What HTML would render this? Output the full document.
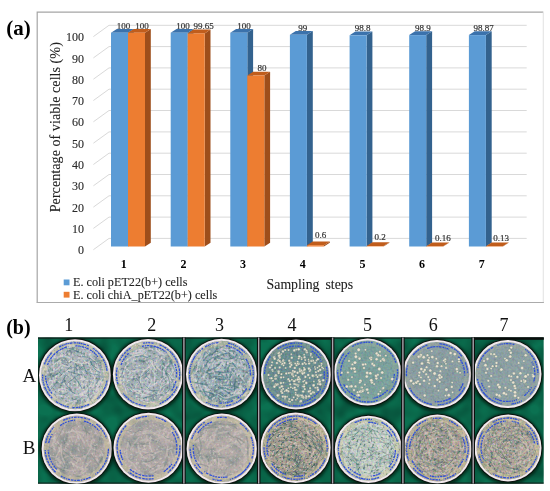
<!DOCTYPE html><html><head><meta charset="utf-8"><style>
html,body{margin:0;padding:0;background:#fff;}
svg{display:block;}
text{font-family:"Liberation Serif",serif;}
</style></head><body>
<svg width="550" height="491" viewBox="0 0 550 491">
<rect width="550" height="491" fill="#fff"/>

<path d="M37.2,302.5V12.2H543.3" fill="none" stroke="#a5a5a5" stroke-width="1.2"/>
<path d="M543.3,12.2V302.5" fill="none" stroke="#e4e4e4" stroke-width="1.1"/>
<path d="M36.6,302.5H543.9" fill="none" stroke="#ababab" stroke-width="1.2"/>
<polyline points="93.4,249.7 109,238.4 526.7,238.4" fill="none" stroke="#d9d9d9" stroke-width="1"/>
<polyline points="93.4,228.4 109,217.1 526.7,217.1" fill="none" stroke="#d9d9d9" stroke-width="1"/>
<polyline points="93.4,207.1 109,195.8 526.7,195.8" fill="none" stroke="#d9d9d9" stroke-width="1"/>
<polyline points="93.4,185.8 109,174.5 526.7,174.5" fill="none" stroke="#d9d9d9" stroke-width="1"/>
<polyline points="93.4,164.5 109,153.2 526.7,153.2" fill="none" stroke="#d9d9d9" stroke-width="1"/>
<polyline points="93.4,143.2 109,131.9 526.7,131.9" fill="none" stroke="#d9d9d9" stroke-width="1"/>
<polyline points="93.4,121.8 109,110.5 526.7,110.5" fill="none" stroke="#d9d9d9" stroke-width="1"/>
<polyline points="93.4,100.5 109,89.2 526.7,89.2" fill="none" stroke="#d9d9d9" stroke-width="1"/>
<polyline points="93.4,79.2 109,67.9 526.7,67.9" fill="none" stroke="#d9d9d9" stroke-width="1"/>
<polyline points="93.4,57.9 109,46.6 526.7,46.6" fill="none" stroke="#d9d9d9" stroke-width="1"/>
<polyline points="93.4,36.6 109,25.3 526.7,25.3" fill="none" stroke="#d9d9d9" stroke-width="1"/>
<text x="84" y="254.3" font-size="12" text-anchor="end" fill="#2a2a2a" stroke="#2a2a2a" stroke-width="0.12">0</text>
<text x="84" y="233.0" font-size="12" text-anchor="end" fill="#2a2a2a" stroke="#2a2a2a" stroke-width="0.12">10</text>
<text x="84" y="211.7" font-size="12" text-anchor="end" fill="#2a2a2a" stroke="#2a2a2a" stroke-width="0.12">20</text>
<text x="84" y="190.4" font-size="12" text-anchor="end" fill="#2a2a2a" stroke="#2a2a2a" stroke-width="0.12">30</text>
<text x="84" y="169.1" font-size="12" text-anchor="end" fill="#2a2a2a" stroke="#2a2a2a" stroke-width="0.12">40</text>
<text x="84" y="147.8" font-size="12" text-anchor="end" fill="#2a2a2a" stroke="#2a2a2a" stroke-width="0.12">50</text>
<text x="84" y="126.4" font-size="12" text-anchor="end" fill="#2a2a2a" stroke="#2a2a2a" stroke-width="0.12">60</text>
<text x="84" y="105.1" font-size="12" text-anchor="end" fill="#2a2a2a" stroke="#2a2a2a" stroke-width="0.12">70</text>
<text x="84" y="83.8" font-size="12" text-anchor="end" fill="#2a2a2a" stroke="#2a2a2a" stroke-width="0.12">80</text>
<text x="84" y="62.5" font-size="12" text-anchor="end" fill="#2a2a2a" stroke="#2a2a2a" stroke-width="0.12">90</text>
<text x="84" y="41.2" font-size="12" text-anchor="end" fill="#2a2a2a" stroke="#2a2a2a" stroke-width="0.12">100</text>
<polygon points="128.0,32.7 133.8,28.9 133.8,242.7 128.0,246.5" fill="#33628e"/>
<polygon points="111.0,32.7 116.8,28.9 133.8,28.9 128.0,32.7" fill="#3b72ac"/>
<rect x="111.0" y="32.7" width="17.0" height="213.8" fill="#5b9bd5"/>
<polygon points="145.0,32.7 150.8,28.9 150.8,242.7 145.0,246.5" fill="#9e4e1b"/>
<polygon points="128.0,32.7 133.8,28.9 150.8,28.9 145.0,32.7" fill="#c05d1c"/>
<rect x="128.0" y="32.7" width="17.0" height="213.8" fill="#ed7d31"/>
<polygon points="187.7,32.7 193.5,28.9 193.5,242.7 187.7,246.5" fill="#33628e"/>
<polygon points="170.7,32.7 176.5,28.9 193.5,28.9 187.7,32.7" fill="#3b72ac"/>
<rect x="170.7" y="32.7" width="17.0" height="213.8" fill="#5b9bd5"/>
<polygon points="204.7,33.4 210.5,29.6 210.5,242.7 204.7,246.5" fill="#9e4e1b"/>
<polygon points="187.7,33.4 193.5,29.6 210.5,29.6 204.7,33.4" fill="#c05d1c"/>
<rect x="187.7" y="33.4" width="17.0" height="213.1" fill="#ed7d31"/>
<polygon points="247.3,32.7 253.1,28.9 253.1,242.7 247.3,246.5" fill="#33628e"/>
<polygon points="230.3,32.7 236.1,28.9 253.1,28.9 247.3,32.7" fill="#3b72ac"/>
<rect x="230.3" y="32.7" width="17.0" height="213.8" fill="#5b9bd5"/>
<polygon points="264.3,75.5 270.1,71.7 270.1,242.7 264.3,246.5" fill="#9e4e1b"/>
<polygon points="247.3,75.5 253.1,71.7 270.1,71.7 264.3,75.5" fill="#c05d1c"/>
<rect x="247.3" y="75.5" width="17.0" height="171.0" fill="#ed7d31"/>
<polygon points="306.9,34.8 312.8,31.0 312.8,242.7 306.9,246.5" fill="#33628e"/>
<polygon points="289.9,34.8 295.8,31.0 312.8,31.0 306.9,34.8" fill="#3b72ac"/>
<rect x="289.9" y="34.8" width="17.0" height="211.7" fill="#5b9bd5"/>
<polygon points="323.9,245.2 329.8,241.4 329.8,242.7 323.9,246.5" fill="#9e4e1b"/>
<polygon points="306.9,245.2 312.8,241.4 329.8,241.4 323.9,245.2" fill="#c05d1c"/>
<rect x="306.9" y="245.2" width="17.0" height="1.3" fill="#ed7d31"/>
<polygon points="366.6,35.3 372.4,31.5 372.4,242.7 366.6,246.5" fill="#33628e"/>
<polygon points="349.6,35.3 355.4,31.5 372.4,31.5 366.6,35.3" fill="#3b72ac"/>
<rect x="349.6" y="35.3" width="17.0" height="211.2" fill="#5b9bd5"/>
<polygon points="383.6,246.1 389.4,242.3 389.4,242.7 383.6,246.5" fill="#9e4e1b"/>
<polygon points="366.6,246.1 372.4,242.3 389.4,242.3 383.6,246.1" fill="#c05d1c"/>
<rect x="366.6" y="246.1" width="17.0" height="0.4" fill="#ed7d31"/>
<polygon points="426.2,35.1 432.1,31.3 432.1,242.7 426.2,246.5" fill="#33628e"/>
<polygon points="409.2,35.1 415.1,31.3 432.1,31.3 426.2,35.1" fill="#3b72ac"/>
<rect x="409.2" y="35.1" width="17.0" height="211.4" fill="#5b9bd5"/>
<polygon points="443.2,246.2 449.1,242.4 449.1,242.7 443.2,246.5" fill="#9e4e1b"/>
<polygon points="426.2,246.2 432.1,242.4 449.1,242.4 443.2,246.2" fill="#c05d1c"/>
<rect x="426.2" y="246.2" width="17.0" height="0.3" fill="#ed7d31"/>
<polygon points="485.9,35.1 491.7,31.3 491.7,242.7 485.9,246.5" fill="#33628e"/>
<polygon points="468.9,35.1 474.7,31.3 491.7,31.3 485.9,35.1" fill="#3b72ac"/>
<rect x="468.9" y="35.1" width="17.0" height="211.4" fill="#5b9bd5"/>
<polygon points="502.9,246.2 508.7,242.4 508.7,242.7 502.9,246.5" fill="#9e4e1b"/>
<polygon points="485.9,246.2 491.7,242.4 508.7,242.4 502.9,246.2" fill="#c05d1c"/>
<rect x="485.9" y="246.2" width="17.0" height="0.3" fill="#ed7d31"/>
<text x="123.4" y="28.6" font-size="9" text-anchor="middle" fill="#333" stroke="#333" stroke-width="0.2">100</text>
<text x="183" y="28.6" font-size="9" text-anchor="middle" fill="#333" stroke="#333" stroke-width="0.2">100</text>
<text x="243.9" y="28.6" font-size="9" text-anchor="middle" fill="#333" stroke="#333" stroke-width="0.2">100</text>
<text x="302.7" y="31" font-size="9" text-anchor="middle" fill="#333" stroke="#333" stroke-width="0.2">99</text>
<text x="362.7" y="31.4" font-size="9" text-anchor="middle" fill="#333" stroke="#333" stroke-width="0.2">98.8</text>
<text x="422.8" y="31.2" font-size="9" text-anchor="middle" fill="#333" stroke="#333" stroke-width="0.2">98.9</text>
<text x="483.6" y="31.2" font-size="9" text-anchor="middle" fill="#333" stroke="#333" stroke-width="0.2">98.87</text>
<text x="142" y="28.6" font-size="9" text-anchor="middle" fill="#333" stroke="#333" stroke-width="0.2">100</text>
<text x="203.5" y="28.6" font-size="9" text-anchor="middle" fill="#333" stroke="#333" stroke-width="0.2">99.65</text>
<text x="262" y="71.2" font-size="9" text-anchor="middle" fill="#333" stroke="#333" stroke-width="0.2">80</text>
<text x="320.5" y="238" font-size="9" text-anchor="middle" fill="#333" stroke="#333" stroke-width="0.2">0.6</text>
<text x="380" y="240.2" font-size="9" text-anchor="middle" fill="#333" stroke="#333" stroke-width="0.2">0.2</text>
<text x="442.9" y="241" font-size="9" text-anchor="middle" fill="#333" stroke="#333" stroke-width="0.2">0.16</text>
<text x="501" y="241" font-size="9" text-anchor="middle" fill="#333" stroke="#333" stroke-width="0.2">0.13</text>
<text x="123.8" y="268.3" font-size="12" font-weight="bold" text-anchor="middle" fill="#000">1</text>
<text x="183.4" y="268.3" font-size="12" font-weight="bold" text-anchor="middle" fill="#000">2</text>
<text x="243.1" y="268.3" font-size="12" font-weight="bold" text-anchor="middle" fill="#000">3</text>
<text x="302.8" y="268.3" font-size="12" font-weight="bold" text-anchor="middle" fill="#000">4</text>
<text x="362.4" y="268.3" font-size="12" font-weight="bold" text-anchor="middle" fill="#000">5</text>
<text x="422.1" y="268.3" font-size="12" font-weight="bold" text-anchor="middle" fill="#000">6</text>
<text x="481.7" y="268.3" font-size="12" font-weight="bold" text-anchor="middle" fill="#000">7</text>
<text x="266.6" y="288.6" font-size="13.8" word-spacing="2.5" fill="#222" stroke="#222" stroke-width="0.08">Sampling steps</text>
<text transform="translate(59.6,212.3) rotate(-90)" font-size="14.2" fill="#222" stroke="#222" stroke-width="0.08">Percentage of viable cells (%)</text>
<rect x="63.7" y="279.5" width="5.8" height="5.8" fill="#5b9bd5"/>
<rect x="63.7" y="291.8" width="5.8" height="5.8" fill="#ed7d31"/>
<text x="73" y="286.4" font-size="12.2" fill="#222" stroke="#222" stroke-width="0.08">E. coli pET22(b+) cells</text>
<text x="73" y="298.7" font-size="12.2" fill="#222" stroke="#222" stroke-width="0.08">E. coli chiA_pET22(b+) cells</text>
<text x="6.2" y="35.3" font-size="21" font-weight="bold" fill="#000">(a)</text>
<text x="6.2" y="334" font-size="20" font-weight="bold" fill="#000">(b)</text>
<text x="68.8" y="331.3" font-size="18" text-anchor="middle" fill="#111">1</text>
<text x="151.85" y="331.3" font-size="18" text-anchor="middle" fill="#111">2</text>
<text x="219.5" y="331.3" font-size="18" text-anchor="middle" fill="#111">3</text>
<text x="291.9" y="331.3" font-size="18" text-anchor="middle" fill="#111">4</text>
<text x="367.6" y="331.3" font-size="18" text-anchor="middle" fill="#111">5</text>
<text x="433.3" y="331.3" font-size="18" text-anchor="middle" fill="#111">6</text>
<text x="504" y="331.3" font-size="18" text-anchor="middle" fill="#111">7</text>
<text x="22.4" y="382.2" font-size="19" fill="#111">A</text>
<text x="22.8" y="454" font-size="19" fill="#111">B</text>
<defs>
<filter id="nz" x="0" y="0" width="1" height="1" color-interpolation-filters="sRGB"><feTurbulence type="fractalNoise" baseFrequency="0.55" numOctaves="1" seed="5"/><feColorMatrix type="matrix" values="2.2 0 0 0 -0.6  0 2.2 0 0 -0.6  0 0 2.2 0 -0.6  0 0 0 0 1"/></filter>
<filter id="spk" x="0" y="0" width="1" height="1" color-interpolation-filters="sRGB"><feTurbulence type="fractalNoise" baseFrequency="0.38 0.5" numOctaves="2" seed="3"/><feColorMatrix type="matrix" values="0 0 0 0 0.2  0 0 0 0 0.36  0 0 0 0 0.35  6 0 0 0 -3.2"/></filter>
<filter id="spl" x="0" y="0" width="1" height="1" color-interpolation-filters="sRGB"><feTurbulence type="fractalNoise" baseFrequency="0.35 0.45" numOctaves="2" seed="17"/><feColorMatrix type="matrix" values="0 0 0 0 0.95  0 0 0 0 0.92  0 0 0 0 0.9  0 6 0 0 -3.2"/></filter>
<filter id="sw" x="0" y="0" width="1" height="1" color-interpolation-filters="sRGB"><feTurbulence type="fractalNoise" baseFrequency="0.07 0.1" numOctaves="2" seed="21"/><feColorMatrix type="matrix" values="0 0 0 0 0.3  0 0 0 0 0.45  0 0 0 0 0.46  3 0 0 0 -1.25"/></filter>
<filter id="shd" x="-0.2" y="-0.2" width="1.4" height="1.4"><feGaussianBlur stdDeviation="1.6"/></filter>
<filter id="bgt" x="0" y="0" width="1" height="1" color-interpolation-filters="sRGB"><feTurbulence type="fractalNoise" baseFrequency="0.05" numOctaves="2" seed="2"/><feColorMatrix type="matrix" values="0 0 0 0 0  0 0 0 0 0.08  0 0 0 0 0.06  1.6 0 0 0 -0.55"/></filter>
</defs>
<defs><clipPath id="photo"><rect x="38" y="337.3" width="505.8" height="146.5"/></clipPath></defs><g clip-path="url(#photo)">
<rect x="38" y="337.3" width="505.8" height="146.5" fill="#0b7151"/>
<rect x="38" y="337.3" width="505.8" height="146.5" filter="url(#bgt)" opacity="0.45"/>
<rect x="38" y="337.3" width="505.8" height="1.3" fill="#101614"/>
<rect x="38" y="482.6" width="505.8" height="1.2" fill="#101614"/>
<rect x="258.7" y="337.3" width="74" height="2.4" fill="#0a0d0c"/>
<rect x="473" y="337.3" width="71" height="2.5" fill="#0a0d0c"/>
<defs>
<clipPath id="c0"><circle cx="75" cy="375.2" r="34.0"/></clipPath>
<clipPath id="c1"><circle cx="148.1" cy="374.3" r="33.2"/></clipPath>
<clipPath id="c2"><circle cx="221.5" cy="374.3" r="33.5"/></clipPath>
<clipPath id="c3"><circle cx="296" cy="374.5" r="33.0"/></clipPath>
<clipPath id="c4"><circle cx="367.6" cy="372.1" r="31.5"/></clipPath>
<clipPath id="c5"><circle cx="437" cy="374.2" r="32.2"/></clipPath>
<clipPath id="c6"><circle cx="507.5" cy="374" r="32.0"/></clipPath>
<clipPath id="c7"><circle cx="76.8" cy="448.8" r="33.2"/></clipPath>
<clipPath id="c8"><circle cx="148.5" cy="447.7" r="33.0"/></clipPath>
<clipPath id="c9"><circle cx="221.8" cy="448.8" r="33.2"/></clipPath>
<clipPath id="c10"><circle cx="295.6" cy="447.7" r="33.2"/></clipPath>
<clipPath id="c11"><circle cx="368.4" cy="449.3" r="31.6"/></clipPath>
<clipPath id="c12"><circle cx="437.4" cy="449" r="32.4"/></clipPath>
<clipPath id="c13"><circle cx="508" cy="447.9" r="31.5"/></clipPath>
</defs>
<circle cx="75" cy="376.0" r="38.2" fill="#020806" opacity="0.7" filter="url(#shd)"/>
<circle cx="75" cy="375.2" r="36.9" fill="#0a120f"/>
<circle cx="75" cy="375.2" r="36" fill="#f1e9ec"/>
<circle cx="75" cy="375.2" r="34.0" fill="#b7c0c6"/>
<g clip-path="url(#c0)">
<rect x="21.0" y="321.2" width="108.0" height="108.0" filter="url(#sw)" opacity="0.35" transform="rotate(138 75 375.2)"/>
<rect x="21.0" y="321.2" width="108.0" height="108.0" filter="url(#spl)" opacity="0.7" transform="rotate(98 75 375.2)"/>
<rect x="21.0" y="321.2" width="108.0" height="108.0" filter="url(#spk)" opacity="0.45" transform="rotate(58 75 375.2)"/>
<path d="M61.4,376.3q3.2,-6.4 10.4,-6.1M95.3,380.8q-0.9,3.5 -2.5,6.6M101.2,388.9q-6.2,6.1 -11.0,13.4M96.2,369.2q-2.8,2.4 -2.6,6.0M91.6,383.6q-3.6,7.8 -11.9,10.4M54.1,357.3q5.2,-0.5 10.3,-1.6M83.6,372.7q0.3,5.7 -2.2,10.9M49.7,386.7q3.7,-3.6 3.8,-8.8M81.8,396.1q-7.7,4.0 -11.7,11.7M90.4,369.7q2.0,3.1 3.2,6.7M95.1,392.2q-6.1,4.3 -7.9,11.5M89.1,354.4q2.1,4.6 6.2,7.5M54.0,372.0q-0.9,-8.6 -1.2,-17.3M102.4,378.4q-4.5,5.8 -6.4,12.9M82.7,343.3q8.4,-1.0 12.5,6.4M89.2,392.8q-2.6,3.5 -6.9,2.7M99.0,388.8q-0.8,9.5 -9.4,13.5M47.5,372.9q9.0,-1.1 14.2,-8.6M77.4,401.2q-9.7,-1.6 -15.3,6.5M83.8,383.4q-2.1,4.2 -6.5,5.9M52.0,367.0q3.5,-4.4 8.3,-7.2M96.1,361.3q1.8,6.9 3.9,13.7M58.0,347.7q3.2,8.1 11.6,10.1M55.0,398.0q-5.0,-3.6 -4.6,-9.8M100.5,381.4q-1.2,3.9 -3.9,6.9M82.1,371.3q2.4,3.7 0.5,7.8M95.7,374.8q-0.5,4.1 -3.4,7.0M66.3,389.6q-3.6,-2.0 -7.5,-0.4M45.1,385.4q-2.0,-3.1 -2.5,-6.8M79.8,358.1q4.7,0.6 6.0,5.2M42.3,372.2q2.1,-2.4 3.9,-5.0M93.3,344.5q4.6,6.0 4.7,13.6M90.2,386.7q-4.2,6.7 -11.0,10.7M71.8,360.6q8.6,5.0 17.8,1.3M81.7,345.9q5.9,2.1 10.5,6.3M78.2,372.0q3.5,3.4 4.3,8.3M92.0,365.6q7.1,7.9 17.2,4.8M82.8,393.3q-3.9,2.7 -8.5,1.7M59.3,362.8q4.9,3.4 10.8,4.5M98.7,382.8q-3.0,7.5 2.0,13.8M67.3,347.5q7.6,-2.4 15.4,-1.2M102.2,364.8q1.7,5.1 2.0,10.6M66.2,343.9q3.5,2.8 7.7,1.2M98.7,393.1q-9.6,0.7 -12.6,9.8M62.7,396.9q-2.5,-2.7 -6.0,-1.4" fill="none" stroke="#ece6e8" stroke-width="1.4" stroke-linecap="round" opacity="0.6"/>
<path d="M82.5,356.3q8.5,0.8 14.1,7.3M74.5,393.2q-4.1,-2.1 -7.6,-5.1M82.8,364.3q2.2,4.6 3.9,9.5M89.2,362.2q6.0,-0.6 11.9,-1.7M99.4,372.5q1.0,6.1 -2.9,10.9M68.5,371.5q7.0,2.4 14.2,3.7M51.7,376.8q6.6,-1.7 10.2,-7.5M59.5,376.3q5.8,-4.9 11.5,-10.0M68.7,348.0q8.1,2.6 15.6,6.5M52.0,379.7q-1.8,-5.4 -4.0,-10.7M90.9,361.8q1.9,7.9 9.4,10.9M78.1,399.9q-1.8,8.8 -10.0,12.6M64.8,382.6q-1.4,-3.4 -0.4,-6.9M66.9,368.0q4.0,0.8 7.8,-0.7M89.0,387.5q-3.1,9.4 4.3,16.0M81.2,367.1q6.4,7.5 16.2,7.5M60.3,385.9q1.8,-6.0 5.9,-10.6M73.1,393.0q-4.4,-4.6 -8.0,-9.8M67.5,383.1q5.4,-4.0 10.7,-8.2M81.2,371.4q2.9,2.4 3.8,6.2M74.1,373.1q-0.1,-5.2 4.0,-8.3M90.2,361.2q0.7,4.5 4.9,6.0M64.6,354.1q1.8,-3.7 6.0,-3.8M46.5,392.0q6.8,-2.8 9.6,-9.7M78.4,365.5q1.1,3.6 4.7,4.9M68.1,392.9q-4.3,2.9 -9.1,1.1M80.0,396.9q-2.6,3.1 -6.7,2.9M72.5,376.1q6.4,4.6 9.3,11.9" fill="none" stroke="#2f6a7a" stroke-width="1.0" stroke-linecap="round" opacity="0.45"/>
<rect x="39.0" y="339.2" width="72.0" height="72.0" filter="url(#nz)" opacity="0.12"/>
<circle cx="75" cy="375.2" r="31.4" fill="none" stroke="#ddd09a" stroke-width="5" opacity="0.35"/>
</g>
<path d="M89.2,404.3A32.4,32.4 0 0 1 72.1,407.5 M68.7,407.0A32.4,32.4 0 0 1 54.8,400.5 M52.2,398.3A32.4,32.4 0 0 1 42.6,374.5 M44.5,364.4A32.4,32.4 0 0 1 51.8,352.6 M59.3,346.9A32.4,32.4 0 0 1 89.0,346.0 M93.0,348.3A32.4,32.4 0 0 1 107.2,371.7 M107.0,380.5A32.4,32.4 0 0 1 97.3,398.7 M52.0,393.5A29.4,29.4 0 0 1 45.6,375.7 M47.5,364.9A29.4,29.4 0 0 1 68.4,346.5 M75.4,345.8A29.4,29.4 0 0 1 97.9,356.8" fill="none" stroke="#2f4fd8" stroke-width="1.3" stroke-dasharray="2.2 0.7 1.6 0.4 1.1 0.5 2.4 0.6 1.2 0.5 2.7 1.1 2.3 0.6 1.3 0.6 1.8 0.5 1.8 0.6 2.9 1.2 2.0 0.6 2.9 0.6 1.6 0.4 1.6 0.8"/>
<circle cx="148.1" cy="375.1" r="37.4" fill="#020806" opacity="0.7" filter="url(#shd)"/>
<circle cx="148.1" cy="374.3" r="36.1" fill="#0a120f"/>
<circle cx="148.1" cy="374.3" r="35.2" fill="#f1e9ec"/>
<circle cx="148.1" cy="374.3" r="33.2" fill="#b4bec5"/>
<g clip-path="url(#c1)">
<rect x="95.3" y="321.5" width="105.6" height="105.6" filter="url(#sw)" opacity="0.35" transform="rotate(170 148.1 374.3)"/>
<rect x="95.3" y="321.5" width="105.6" height="105.6" filter="url(#spl)" opacity="0.7" transform="rotate(130 148.1 374.3)"/>
<rect x="95.3" y="321.5" width="105.6" height="105.6" filter="url(#spk)" opacity="0.45" transform="rotate(90 148.1 374.3)"/>
<path d="M150.3,373.9q-2.0,2.9 -4.8,5.2M154.1,368.7q-0.0,6.5 0.5,13.0M126.0,352.4q7.6,3.2 14.5,-1.3M145.7,394.9q-5.9,-4.6 -13.1,-6.6M146.7,361.8q3.6,7.7 9.6,13.7M154.6,344.8q1.5,6.5 7.4,9.5M157.8,343.8q0.1,7.4 6.5,11.3M135.3,350.7q3.7,-1.3 7.5,-1.0M149.8,360.3q2.6,5.9 7.0,10.6M130.2,353.9q8.2,0.6 15.0,-4.0M124.5,376.1q-2.0,-7.9 4.1,-13.3M155.0,402.1q-7.7,2.0 -14.6,-2.0M174.8,364.3q0.8,6.0 -0.3,11.9M132.5,355.3q6.4,-4.8 13.6,-1.5M151.7,379.9q-2.2,7.4 -7.9,12.7M174.2,369.6q-4.4,5.8 -5.4,13.0M147.6,400.2q-6.1,-0.8 -12.0,-2.2M170.4,382.8q-10.2,1.9 -13.2,11.9M147.7,368.3q-8.2,4.7 -7.1,14.2M149.9,395.7q-4.2,-1.1 -8.4,-1.2M128.0,374.6q7.4,-6.4 17.0,-4.1M117.4,376.4q4.5,-2.2 5.0,-7.2M168.6,374.8q1.0,2.8 2.0,5.7M146.0,395.8q-3.9,-3.8 -9.2,-3.2M148.6,365.0q3.8,8.3 -1.0,16.0M136.1,343.8q5.3,0.5 10.1,2.6M119.4,362.4q1.8,-4.9 4.5,-9.3M167.4,376.3q-5.5,0.6 -7.5,5.8M152.4,391.4q-6.6,0.9 -11.7,-3.3M169.1,362.9q-6.2,4.8 -5.2,12.5M120.5,372.3q-5.8,-6.4 -2.5,-14.4M124.4,386.8q-4.5,-3.3 -3.4,-8.8M169.3,390.0q1.0,5.9 -0.5,11.7M141.1,353.5q6.9,2.2 11.6,7.6M132.8,391.2q-4.3,-1.1 -6.2,-5.1M154.1,360.2q1.5,10.2 11.6,12.3M164.2,387.3q-0.9,4.7 -5.4,6.3M166.3,378.5q-6.0,4.2 -5.8,11.5M126.8,393.6q-1.5,-5.3 -3.4,-10.4M145.2,395.7q-9.8,-1.4 -14.3,-10.3M125.4,361.5q6.2,-6.3 15.0,-6.6M154.8,384.8q-9.4,2.5 -13.1,11.5M178.2,375.3q-2.1,2.6 -2.5,5.9M120.1,384.5q2.0,-5.9 -2.2,-10.5M159.3,345.7q8.4,4.1 12.5,12.5" fill="none" stroke="#ece6e8" stroke-width="1.1" stroke-linecap="round" opacity="0.6"/>
<path d="M169.0,358.1q3.5,6.7 6.3,13.8M167.2,373.1q6.0,5.6 6.8,13.8M126.0,352.9q4.3,-1.6 7.7,-4.7M170.4,388.8q-2.5,2.3 -4.9,4.8M132.1,391.9q-2.8,-1.5 -4.4,-4.3M171.2,362.5q-6.0,5.0 -5.2,12.7M156.9,393.2q-6.1,4.3 -13.6,4.9M149.1,370.1q-5.1,4.9 -11.2,8.6M137.1,360.0q3.3,-0.2 6.3,1.0M135.7,357.0q4.5,0.6 8.1,-2.2M119.4,378.0q3.9,-3.7 3.7,-9.0M157.0,393.3q-7.5,-2.5 -12.5,-8.5M117.1,380.6q1.8,-5.3 1.2,-10.9M171.2,395.9q-3.6,4.5 -9.4,5.2M171.6,394.9q-6.1,1.0 -8.4,6.7M136.0,343.8q8.1,6.7 17.8,2.7M158.3,390.8q-3.2,-0.7 -6.4,0.0M139.5,389.0q-5.4,1.2 -9.7,-2.1M146.1,372.6q-0.5,4.4 3.3,6.7M142.5,392.7q0.0,-8.7 -6.4,-14.5M165.9,372.2q5.3,7.6 3.4,16.7M161.8,360.1q1.7,2.7 2.7,5.8M148.0,345.0q2.3,3.2 6.2,2.8M140.0,355.4q8.5,1.3 15.6,6.1M160.5,363.5q5.0,5.7 6.6,13.0M162.7,367.4q-2.5,8.4 3.5,14.7M171.5,359.8q-3.9,5.8 -0.3,11.7M128.3,397.4q-3.6,-2.8 -6.5,-6.2" fill="none" stroke="#2f6a7a" stroke-width="0.9" stroke-linecap="round" opacity="0.45"/>
<rect x="112.9" y="339.1" width="70.4" height="70.4" filter="url(#nz)" opacity="0.12"/>
<circle cx="148.1" cy="374.3" r="30.6" fill="none" stroke="#ddd09a" stroke-width="5" opacity="0.35"/>
</g>
<path d="M176.5,360.5A31.6,31.6 0 0 1 179.7,373.6 M177.2,386.5A31.6,31.6 0 0 1 159.1,403.9 M145.8,405.8A31.6,31.6 0 0 1 123.1,393.6 M118.0,384.1A31.6,31.6 0 0 1 117.2,367.6 M119.5,360.8A31.6,31.6 0 0 1 130.9,347.8 M143.0,343.1A31.6,31.6 0 0 1 154.2,343.3 M159.6,344.9A31.6,31.6 0 0 1 177.5,362.8 M179.2,368.9A31.6,31.6 0 0 1 179.2,379.7 M121.0,365.0A28.6,28.6 0 0 1 129.4,352.7 M141.9,346.4A28.6,28.6 0 0 1 166.5,352.4 M174.7,363.8A28.6,28.6 0 0 1 176.5,377.4 M175.9,381.1A28.6,28.6 0 0 1 171.6,390.7" fill="none" stroke="#2f4fd8" stroke-width="1.3" stroke-dasharray="2.4 0.8 1.3 0.7 2.2 0.9 2.4 1.1 2.3 0.5 2.6 0.6 2.0 0.7 2.4 0.6 1.3 0.6 1.1 1.1 2.1 0.7 1.7 1.2 1.9 0.6 2.6 0.9 3.0 0.5"/>
<circle cx="221.5" cy="375.1" r="37.7" fill="#020806" opacity="0.7" filter="url(#shd)"/>
<circle cx="221.5" cy="374.3" r="36.4" fill="#0a120f"/>
<circle cx="221.5" cy="374.3" r="35.5" fill="#f1e9ec"/>
<circle cx="221.5" cy="374.3" r="33.5" fill="#a7b9c2"/>
<g clip-path="url(#c2)">
<rect x="168.2" y="321.1" width="106.5" height="106.5" filter="url(#sw)" opacity="0.45" transform="rotate(165 221.5 374.3)"/>
<rect x="168.2" y="321.1" width="106.5" height="106.5" filter="url(#spl)" opacity="0.65" transform="rotate(125 221.5 374.3)"/>
<rect x="168.2" y="321.1" width="106.5" height="106.5" filter="url(#spk)" opacity="0.55" transform="rotate(85 221.5 374.3)"/>
<path d="M250.7,377.7q-2.8,4.1 -0.0,8.3M240.4,359.7q0.6,5.9 5.7,8.8M223.1,397.5q-2.7,-2.5 -5.9,-4.2M229.2,394.1q-0.4,5.8 -5.3,9.0M225.3,389.0q-4.5,2.4 -8.4,-0.9M211.2,361.4q1.6,-3.9 4.9,-6.6M222.0,361.5q3.4,-1.4 7.0,-1.7M203.9,358.8q1.4,-3.7 5.1,-4.9M202.4,396.6q-5.2,-7.3 -6.2,-16.3M207.6,398.3q1.8,-5.9 -1.9,-10.8M202.4,402.0q-4.2,-2.9 -2.9,-7.9M191.5,395.2q2.5,-7.6 6.9,-14.3M192.7,387.8q1.3,-6.3 0.1,-12.6M250.4,384.4q-2.4,6.4 -6.8,11.6M241.6,386.5q-3.4,9.1 -13.0,11.1M221.7,348.6q9.4,1.9 14.5,9.9M230.1,367.7q0.3,3.9 3.8,5.4M231.7,360.1q4.6,5.8 12.0,6.1M216.3,362.6q8.3,3.1 16.1,-1.2M227.8,391.5q-3.5,-4.1 -7.2,-8.1M241.2,381.8q-1.8,9.8 -11.5,12.2M219.9,349.0q1.9,3.0 5.4,3.5M212.2,372.8q-0.0,-4.9 1.0,-9.6M202.5,391.6q-3.0,-6.3 -5.0,-13.0M239.7,373.7q1.1,4.6 4.8,7.4M196.2,385.3q-1.7,-3.7 -3.1,-7.5M231.7,377.0q-3.2,4.7 -6.2,9.4M214.6,371.6q3.5,-1.2 5.6,-4.2M190.2,376.2q6.0,-1.7 7.1,-7.8M220.1,362.7q7.8,5.3 17.2,5.0M239.6,403.7q-6.7,-7.6 -16.6,-5.5M216.1,363.6q7.4,-6.8 16.8,-3.4M217.8,354.2q3.8,3.4 8.8,2.9M201.8,377.7q6.3,-6.7 15.5,-7.0M204.4,377.7q-0.9,-4.4 2.0,-7.9M200.7,350.0q6.2,-6.8 15.4,-6.5M242.7,387.6q-3.0,5.0 -0.6,10.3M197.2,370.4q-0.4,-9.5 7.4,-14.9M199.1,356.0q3.9,-3.9 1.7,-9.0M206.5,400.3q-0.9,-7.6 -0.6,-15.2M217.0,359.0q3.6,2.9 8.0,4.2M189.5,362.9q4.0,-6.0 10.5,-9.3M217.4,376.1q5.4,-1.4 10.8,-3.1M245.9,395.3q-4.5,0.1 -8.5,2.0M221.3,375.9q4.4,-3.4 9.9,-2.9" fill="none" stroke="#ece6e8" stroke-width="1.4" stroke-linecap="round" opacity="0.55"/>
<path d="M197.6,382.0q1.7,-4.1 -1.3,-7.5M238.9,387.9q-7.8,-4.2 -16.3,-2.0M222.4,395.7q-2.4,-2.0 -5.4,-2.9M215.9,395.7q-7.6,-5.0 -16.6,-4.6M232.3,362.9q2.0,2.6 4.2,5.0M225.3,396.4q-2.1,-2.2 -4.6,-4.1M244.7,397.0q-4.2,0.5 -8.1,2.2M204.0,360.4q2.4,-4.4 6.7,-7.0M226.5,362.2q-2.0,7.8 0.7,15.4M230.3,372.5q-7.5,0.2 -14.9,-0.6M235.2,379.5q0.6,5.2 -3.8,7.9M214.8,359.0q5.7,-5.1 13.3,-5.9M207.5,385.0q-7.5,-1.7 -15.2,-3.0M205.0,367.0q2.7,-9.6 12.6,-10.7M230.4,389.9q-7.7,-4.2 -14.9,0.9M212.1,401.4q-1.5,-4.9 -6.5,-6.0M207.8,355.9q8.2,-1.7 9.8,-10.0M227.8,354.0q4.6,3.7 10.5,4.0M216.8,394.5q-4.1,1.4 -7.5,4.0M229.5,366.0q-2.7,3.2 -1.2,7.2M236.1,387.5q-2.2,3.1 -5.9,2.4M202.7,357.9q1.7,-3.0 2.7,-6.2M221.6,358.7q8.7,2.5 15.5,-3.4M229.4,365.6q-1.4,3.7 -4.9,5.4M233.1,368.6q-4.8,7.4 -2.5,16.0M229.4,351.0q4.0,-1.0 6.9,1.9M233.5,398.4q-4.2,2.7 -8.8,4.4M226.5,379.0q-5.2,1.1 -10.4,-0.4M186.3,380.4q5.4,-6.2 8.6,-13.7M221.8,376.9q-5.2,-1.2 -10.1,0.5M234.3,398.4q-8.9,3.1 -16.1,-3.0M242.7,398.7q-7.9,-4.5 -15.1,1.2M224.3,377.8q-3.5,-5.4 -9.8,-6.7M211.4,377.8q-1.6,-5.1 -6.8,-6.0M231.1,394.7q-6.0,-4.0 -11.9,-8.1M208.6,370.3q7.6,-1.5 12.1,-7.8M209.1,398.5q-3.7,-4.1 -6.0,-9.0M250.0,386.6q-2.0,4.0 -6.0,6.0" fill="none" stroke="#2a6878" stroke-width="1.3" stroke-linecap="round" opacity="0.5"/>
<rect x="186.0" y="338.8" width="71.0" height="71.0" filter="url(#nz)" opacity="0.12"/>
<circle cx="221.5" cy="374.3" r="30.9" fill="none" stroke="#ddd09a" stroke-width="5" opacity="0.35"/>
</g>
<path d="M189.6,374.1A31.9,31.9 0 0 1 194.7,357.0 M205.0,347.0A31.9,31.9 0 0 1 218.9,342.5 M228.0,343.1A31.9,31.9 0 0 1 246.0,353.9 M252.0,365.1A31.9,31.9 0 0 1 249.0,390.5 M241.5,399.1A31.9,31.9 0 0 1 225.8,405.9 M218.4,406.1A31.9,31.9 0 0 1 206.1,402.2 M195.7,393.1A31.9,31.9 0 0 1 189.9,370.0 M194.0,358.1A31.9,31.9 0 0 1 203.0,348.3 M225.7,345.7A28.9,28.9 0 0 1 243.3,355.3 M245.9,358.8A28.9,28.9 0 0 1 250.4,375.9 M246.7,388.4A28.9,28.9 0 0 1 237.7,398.2 M233.2,400.7A28.9,28.9 0 0 1 218.8,403.1" fill="none" stroke="#2f4fd8" stroke-width="1.3" stroke-dasharray="2.7 0.5 1.1 0.6 1.5 0.8 1.2 0.7 1.2 1.2 2.4 0.5 2.9 0.5 1.6 1.2 2.5 1.0 1.8 0.6 2.2 0.5 1.3 0.7 0.9 0.7 2.5 1.0 1.9 0.9"/>
<circle cx="296" cy="375.3" r="37.2" fill="#020806" opacity="0.7" filter="url(#shd)"/>
<circle cx="296" cy="374.5" r="35.9" fill="#0a120f"/>
<circle cx="296" cy="374.5" r="35" fill="#f1e9ec"/>
<circle cx="296" cy="374.5" r="33.0" fill="#6a9094"/>
<g clip-path="url(#c3)">
<rect x="243.5" y="322.0" width="105.0" height="105.0" filter="url(#spk)" opacity="0.3" transform="rotate(83 296 374.5)"/>
<rect x="261.0" y="339.5" width="70.0" height="70.0" filter="url(#nz)" opacity="0.1"/>
<circle cx="296" cy="374.5" r="30.4" fill="none" stroke="#ddd09a" stroke-width="5" opacity="0.12"/>
</g>
<path d="M315.7,398.9A31.4,31.4 0 0 1 294.7,405.9 M286.6,404.5A31.4,31.4 0 0 1 267.7,388.1 M264.6,374.0A31.4,31.4 0 0 1 270.4,356.3 M277.6,349.0A31.4,31.4 0 0 1 302.2,343.7 M310.2,346.5A31.4,31.4 0 0 1 321.1,355.7 M326.4,366.6A31.4,31.4 0 0 1 320.8,393.8 M311.0,402.1A31.4,31.4 0 0 1 287.0,404.6 M283.8,348.8A28.4,28.4 0 0 1 304.6,347.4 M311.8,350.9A28.4,28.4 0 0 1 321.4,361.8 M324.2,371.3A28.4,28.4 0 0 1 323.5,381.7 M320.6,388.7A28.4,28.4 0 0 1 301.6,402.3" fill="none" stroke="#2f4fd8" stroke-width="1.3" stroke-dasharray="2.2 0.6 1.7 0.8 2.2 0.7 2.3 1.1 1.2 0.9 2.5 0.7 1.9 1.2 0.9 0.8 1.2 1.0 2.9 0.8 1.0 0.9 2.0 1.0 1.9 0.9 2.6 0.8 1.7 1.2"/>
<circle cx="301.7" cy="396.9" r="1.10" fill="#ebe2d0" stroke="#5a7670" stroke-width="0.3"/>
<circle cx="296.8" cy="364.7" r="1.39" fill="#ebe2d0" stroke="#5a7670" stroke-width="0.3"/>
<circle cx="291.9" cy="379.8" r="1.04" fill="#ebe2d0" stroke="#5a7670" stroke-width="0.3"/>
<circle cx="293.4" cy="376.4" r="1.11" fill="#ebe2d0" stroke="#5a7670" stroke-width="0.3"/>
<circle cx="275.5" cy="385.7" r="1.08" fill="#ebe2d0" stroke="#5a7670" stroke-width="0.3"/>
<circle cx="294.7" cy="387.7" r="1.27" fill="#ebe2d0" stroke="#5a7670" stroke-width="0.3"/>
<circle cx="314.9" cy="367.0" r="1.01" fill="#ebe2d0" stroke="#5a7670" stroke-width="0.3"/>
<circle cx="301.6" cy="357.9" r="1.01" fill="#ebe2d0" stroke="#5a7670" stroke-width="0.3"/>
<circle cx="313.0" cy="392.4" r="1.30" fill="#ebe2d0" stroke="#5a7670" stroke-width="0.3"/>
<circle cx="283.3" cy="360.2" r="1.18" fill="#ebe2d0" stroke="#5a7670" stroke-width="0.3"/>
<circle cx="300.1" cy="401.7" r="1.08" fill="#ebe2d0" stroke="#5a7670" stroke-width="0.3"/>
<circle cx="279.7" cy="355.1" r="1.31" fill="#ebe2d0" stroke="#5a7670" stroke-width="0.3"/>
<circle cx="281.1" cy="377.5" r="1.17" fill="#ebe2d0" stroke="#5a7670" stroke-width="0.3"/>
<circle cx="314.1" cy="392.6" r="1.08" fill="#ebe2d0" stroke="#5a7670" stroke-width="0.3"/>
<circle cx="304.6" cy="362.8" r="1.09" fill="#ebe2d0" stroke="#5a7670" stroke-width="0.3"/>
<circle cx="295.6" cy="392.8" r="0.99" fill="#ebe2d0" stroke="#5a7670" stroke-width="0.3"/>
<circle cx="319.8" cy="374.9" r="1.04" fill="#ebe2d0" stroke="#5a7670" stroke-width="0.3"/>
<circle cx="296.5" cy="389.9" r="1.14" fill="#ebe2d0" stroke="#5a7670" stroke-width="0.3"/>
<circle cx="275.9" cy="384.2" r="1.23" fill="#ebe2d0" stroke="#5a7670" stroke-width="0.3"/>
<circle cx="278.5" cy="395.0" r="1.33" fill="#ebe2d0" stroke="#5a7670" stroke-width="0.3"/>
<circle cx="319.9" cy="383.4" r="1.35" fill="#ebe2d0" stroke="#5a7670" stroke-width="0.3"/>
<circle cx="298.2" cy="364.2" r="1.32" fill="#ebe2d0" stroke="#5a7670" stroke-width="0.3"/>
<circle cx="293.7" cy="372.0" r="0.91" fill="#ebe2d0" stroke="#5a7670" stroke-width="0.3"/>
<circle cx="317.6" cy="367.7" r="1.03" fill="#ebe2d0" stroke="#5a7670" stroke-width="0.3"/>
<circle cx="304.5" cy="380.8" r="1.02" fill="#ebe2d0" stroke="#5a7670" stroke-width="0.3"/>
<circle cx="298.7" cy="358.2" r="0.98" fill="#ebe2d0" stroke="#5a7670" stroke-width="0.3"/>
<circle cx="316.5" cy="360.4" r="0.98" fill="#ebe2d0" stroke="#5a7670" stroke-width="0.3"/>
<circle cx="312.9" cy="360.7" r="1.29" fill="#ebe2d0" stroke="#5a7670" stroke-width="0.3"/>
<circle cx="283.0" cy="351.4" r="1.29" fill="#ebe2d0" stroke="#5a7670" stroke-width="0.3"/>
<circle cx="302.6" cy="363.9" r="1.25" fill="#ebe2d0" stroke="#5a7670" stroke-width="0.3"/>
<circle cx="272.3" cy="369.9" r="1.12" fill="#ebe2d0" stroke="#5a7670" stroke-width="0.3"/>
<circle cx="311.4" cy="360.5" r="1.03" fill="#ebe2d0" stroke="#5a7670" stroke-width="0.3"/>
<circle cx="297.0" cy="384.9" r="1.15" fill="#ebe2d0" stroke="#5a7670" stroke-width="0.3"/>
<circle cx="313.9" cy="381.4" r="0.97" fill="#ebe2d0" stroke="#5a7670" stroke-width="0.3"/>
<circle cx="276.3" cy="375.6" r="1.17" fill="#ebe2d0" stroke="#5a7670" stroke-width="0.3"/>
<circle cx="297.5" cy="372.8" r="1.32" fill="#ebe2d0" stroke="#5a7670" stroke-width="0.3"/>
<circle cx="275.4" cy="378.7" r="1.23" fill="#ebe2d0" stroke="#5a7670" stroke-width="0.3"/>
<circle cx="305.2" cy="360.1" r="1.11" fill="#ebe2d0" stroke="#5a7670" stroke-width="0.3"/>
<circle cx="303.5" cy="372.6" r="1.22" fill="#ebe2d0" stroke="#5a7670" stroke-width="0.3"/>
<circle cx="292.9" cy="370.9" r="1.20" fill="#ebe2d0" stroke="#5a7670" stroke-width="0.3"/>
<circle cx="284.9" cy="349.9" r="1.07" fill="#ebe2d0" stroke="#5a7670" stroke-width="0.3"/>
<circle cx="315.9" cy="372.2" r="1.14" fill="#ebe2d0" stroke="#5a7670" stroke-width="0.3"/>
<circle cx="300.1" cy="371.4" r="1.26" fill="#ebe2d0" stroke="#5a7670" stroke-width="0.3"/>
<circle cx="284.5" cy="363.0" r="1.33" fill="#ebe2d0" stroke="#5a7670" stroke-width="0.3"/>
<circle cx="283.1" cy="388.9" r="1.16" fill="#ebe2d0" stroke="#5a7670" stroke-width="0.3"/>
<circle cx="297.7" cy="361.8" r="1.12" fill="#ebe2d0" stroke="#5a7670" stroke-width="0.3"/>
<circle cx="277.6" cy="384.3" r="1.31" fill="#ebe2d0" stroke="#5a7670" stroke-width="0.3"/>
<circle cx="289.2" cy="399.1" r="1.10" fill="#ebe2d0" stroke="#5a7670" stroke-width="0.3"/>
<circle cx="281.4" cy="374.2" r="1.15" fill="#ebe2d0" stroke="#5a7670" stroke-width="0.3"/>
<circle cx="318.4" cy="371.0" r="1.30" fill="#ebe2d0" stroke="#5a7670" stroke-width="0.3"/>
<circle cx="288.3" cy="388.3" r="1.05" fill="#ebe2d0" stroke="#5a7670" stroke-width="0.3"/>
<circle cx="276.9" cy="363.0" r="1.29" fill="#ebe2d0" stroke="#5a7670" stroke-width="0.3"/>
<circle cx="319.1" cy="380.4" r="1.34" fill="#ebe2d0" stroke="#5a7670" stroke-width="0.3"/>
<circle cx="290.0" cy="372.7" r="1.05" fill="#ebe2d0" stroke="#5a7670" stroke-width="0.3"/>
<circle cx="308.2" cy="375.0" r="1.36" fill="#ebe2d0" stroke="#5a7670" stroke-width="0.3"/>
<circle cx="278.4" cy="360.2" r="1.29" fill="#ebe2d0" stroke="#5a7670" stroke-width="0.3"/>
<circle cx="314.5" cy="362.7" r="1.21" fill="#ebe2d0" stroke="#5a7670" stroke-width="0.3"/>
<circle cx="279.7" cy="357.8" r="1.20" fill="#ebe2d0" stroke="#5a7670" stroke-width="0.3"/>
<circle cx="290.6" cy="362.8" r="1.23" fill="#ebe2d0" stroke="#5a7670" stroke-width="0.3"/>
<circle cx="272.4" cy="380.9" r="0.95" fill="#ebe2d0" stroke="#5a7670" stroke-width="0.3"/>
<circle cx="298.3" cy="379.4" r="1.29" fill="#ebe2d0" stroke="#5a7670" stroke-width="0.3"/>
<circle cx="315.4" cy="362.8" r="1.08" fill="#ebe2d0" stroke="#5a7670" stroke-width="0.3"/>
<circle cx="306.9" cy="352.2" r="1.18" fill="#ebe2d0" stroke="#5a7670" stroke-width="0.3"/>
<circle cx="295.2" cy="389.9" r="1.11" fill="#ebe2d0" stroke="#5a7670" stroke-width="0.3"/>
<circle cx="288.3" cy="391.2" r="1.22" fill="#ebe2d0" stroke="#5a7670" stroke-width="0.3"/>
<circle cx="302.0" cy="371.9" r="1.18" fill="#ebe2d0" stroke="#5a7670" stroke-width="0.3"/>
<circle cx="305.4" cy="376.9" r="1.31" fill="#ebe2d0" stroke="#5a7670" stroke-width="0.3"/>
<circle cx="272.1" cy="362.3" r="1.12" fill="#ebe2d0" stroke="#5a7670" stroke-width="0.3"/>
<circle cx="313.4" cy="376.0" r="1.20" fill="#ebe2d0" stroke="#5a7670" stroke-width="0.3"/>
<circle cx="321.6" cy="363.9" r="1.14" fill="#ebe2d0" stroke="#5a7670" stroke-width="0.3"/>
<circle cx="288.4" cy="379.2" r="1.22" fill="#ebe2d0" stroke="#5a7670" stroke-width="0.3"/>
<circle cx="298.6" cy="385.1" r="0.91" fill="#ebe2d0" stroke="#5a7670" stroke-width="0.3"/>
<circle cx="319.1" cy="375.2" r="0.96" fill="#ebe2d0" stroke="#5a7670" stroke-width="0.3"/>
<circle cx="304.1" cy="372.8" r="1.33" fill="#ebe2d0" stroke="#5a7670" stroke-width="0.3"/>
<circle cx="298.6" cy="377.2" r="1.26" fill="#ebe2d0" stroke="#5a7670" stroke-width="0.3"/>
<circle cx="297.2" cy="398.5" r="0.99" fill="#ebe2d0" stroke="#5a7670" stroke-width="0.3"/>
<circle cx="319.4" cy="382.1" r="1.26" fill="#ebe2d0" stroke="#5a7670" stroke-width="0.3"/>
<circle cx="310.7" cy="355.6" r="0.94" fill="#ebe2d0" stroke="#5a7670" stroke-width="0.3"/>
<circle cx="279.7" cy="357.5" r="1.13" fill="#ebe2d0" stroke="#5a7670" stroke-width="0.3"/>
<circle cx="308.9" cy="368.7" r="1.38" fill="#ebe2d0" stroke="#5a7670" stroke-width="0.3"/>
<circle cx="295.4" cy="371.6" r="0.91" fill="#ebe2d0" stroke="#5a7670" stroke-width="0.3"/>
<circle cx="281.2" cy="354.0" r="0.94" fill="#ebe2d0" stroke="#5a7670" stroke-width="0.3"/>
<circle cx="287.0" cy="396.7" r="0.98" fill="#ebe2d0" stroke="#5a7670" stroke-width="0.3"/>
<circle cx="308.5" cy="359.5" r="0.93" fill="#ebe2d0" stroke="#5a7670" stroke-width="0.3"/>
<circle cx="281.7" cy="390.2" r="1.12" fill="#ebe2d0" stroke="#5a7670" stroke-width="0.3"/>
<circle cx="291.3" cy="364.9" r="1.30" fill="#ebe2d0" stroke="#5a7670" stroke-width="0.3"/>
<circle cx="281.3" cy="391.5" r="1.21" fill="#ebe2d0" stroke="#5a7670" stroke-width="0.3"/>
<circle cx="280.9" cy="383.1" r="1.29" fill="#ebe2d0" stroke="#5a7670" stroke-width="0.3"/>
<circle cx="319.3" cy="366.1" r="1.18" fill="#ebe2d0" stroke="#5a7670" stroke-width="0.3"/>
<circle cx="294.2" cy="381.2" r="1.39" fill="#ebe2d0" stroke="#5a7670" stroke-width="0.3"/>
<circle cx="288.6" cy="350.1" r="1.07" fill="#ebe2d0" stroke="#5a7670" stroke-width="0.3"/>
<circle cx="274.2" cy="357.4" r="1.32" fill="#ebe2d0" stroke="#5a7670" stroke-width="0.3"/>
<circle cx="283.5" cy="365.3" r="1.11" fill="#ebe2d0" stroke="#5a7670" stroke-width="0.3"/>
<circle cx="309.1" cy="363.4" r="1.24" fill="#ebe2d0" stroke="#5a7670" stroke-width="0.3"/>
<circle cx="274.7" cy="358.7" r="1.30" fill="#ebe2d0" stroke="#5a7670" stroke-width="0.3"/>
<circle cx="295.8" cy="375.6" r="1.03" fill="#ebe2d0" stroke="#5a7670" stroke-width="0.3"/>
<circle cx="277.0" cy="384.5" r="1.31" fill="#ebe2d0" stroke="#5a7670" stroke-width="0.3"/>
<circle cx="300.4" cy="370.8" r="1.32" fill="#ebe2d0" stroke="#5a7670" stroke-width="0.3"/>
<circle cx="305.9" cy="350.4" r="1.19" fill="#ebe2d0" stroke="#5a7670" stroke-width="0.3"/>
<circle cx="292.1" cy="400.0" r="1.30" fill="#ebe2d0" stroke="#5a7670" stroke-width="0.3"/>
<circle cx="285.3" cy="350.0" r="1.07" fill="#ebe2d0" stroke="#5a7670" stroke-width="0.3"/>
<circle cx="313.9" cy="385.1" r="1.30" fill="#ebe2d0" stroke="#5a7670" stroke-width="0.3"/>
<circle cx="303.4" cy="397.6" r="1.37" fill="#ebe2d0" stroke="#5a7670" stroke-width="0.3"/>
<circle cx="298.2" cy="396.2" r="1.24" fill="#ebe2d0" stroke="#5a7670" stroke-width="0.3"/>
<circle cx="283.6" cy="377.3" r="1.03" fill="#ebe2d0" stroke="#5a7670" stroke-width="0.3"/>
<circle cx="296.2" cy="349.6" r="1.13" fill="#ebe2d0" stroke="#5a7670" stroke-width="0.3"/>
<circle cx="317.4" cy="387.7" r="1.29" fill="#ebe2d0" stroke="#5a7670" stroke-width="0.3"/>
<circle cx="298.3" cy="395.7" r="1.35" fill="#ebe2d0" stroke="#5a7670" stroke-width="0.3"/>
<circle cx="311.2" cy="361.1" r="1.14" fill="#ebe2d0" stroke="#5a7670" stroke-width="0.3"/>
<circle cx="285.7" cy="368.0" r="1.00" fill="#ebe2d0" stroke="#5a7670" stroke-width="0.3"/>
<circle cx="305.9" cy="395.8" r="1.08" fill="#ebe2d0" stroke="#5a7670" stroke-width="0.3"/>
<circle cx="279.7" cy="367.5" r="1.16" fill="#ebe2d0" stroke="#5a7670" stroke-width="0.3"/>
<circle cx="299.5" cy="379.3" r="1.40" fill="#ebe2d0" stroke="#5a7670" stroke-width="0.3"/>
<circle cx="289.6" cy="381.0" r="1.22" fill="#ebe2d0" stroke="#5a7670" stroke-width="0.3"/>
<circle cx="298.6" cy="363.7" r="1.20" fill="#ebe2d0" stroke="#5a7670" stroke-width="0.3"/>
<circle cx="284.7" cy="391.2" r="0.91" fill="#ebe2d0" stroke="#5a7670" stroke-width="0.3"/>
<circle cx="323.2" cy="380.3" r="1.33" fill="#ebe2d0" stroke="#5a7670" stroke-width="0.3"/>
<circle cx="275.0" cy="376.3" r="1.03" fill="#ebe2d0" stroke="#5a7670" stroke-width="0.3"/>
<circle cx="299.3" cy="356.5" r="1.37" fill="#ebe2d0" stroke="#5a7670" stroke-width="0.3"/>
<circle cx="298.7" cy="349.3" r="1.38" fill="#ebe2d0" stroke="#5a7670" stroke-width="0.3"/>
<circle cx="295.9" cy="379.9" r="1.00" fill="#ebe2d0" stroke="#5a7670" stroke-width="0.3"/>
<circle cx="299.4" cy="381.8" r="0.93" fill="#ebe2d0" stroke="#5a7670" stroke-width="0.3"/>
<circle cx="271.6" cy="365.3" r="1.13" fill="#ebe2d0" stroke="#5a7670" stroke-width="0.3"/>
<circle cx="321.3" cy="365.8" r="0.93" fill="#ebe2d0" stroke="#5a7670" stroke-width="0.3"/>
<circle cx="281.6" cy="364.3" r="0.96" fill="#ebe2d0" stroke="#5a7670" stroke-width="0.3"/>
<circle cx="309.7" cy="370.9" r="1.18" fill="#ebe2d0" stroke="#5a7670" stroke-width="0.3"/>
<circle cx="278.6" cy="353.3" r="1.23" fill="#ebe2d0" stroke="#5a7670" stroke-width="0.3"/>
<circle cx="281.3" cy="386.2" r="0.98" fill="#ebe2d0" stroke="#5a7670" stroke-width="0.3"/>
<circle cx="323.2" cy="368.5" r="1.01" fill="#ebe2d0" stroke="#5a7670" stroke-width="0.3"/>
<circle cx="309.7" cy="377.9" r="1.08" fill="#ebe2d0" stroke="#5a7670" stroke-width="0.3"/>
<circle cx="317.8" cy="359.2" r="1.32" fill="#ebe2d0" stroke="#5a7670" stroke-width="0.3"/>
<circle cx="319.8" cy="381.7" r="1.25" fill="#ebe2d0" stroke="#5a7670" stroke-width="0.3"/>
<circle cx="279.2" cy="352.4" r="0.93" fill="#ebe2d0" stroke="#5a7670" stroke-width="0.3"/>
<circle cx="310.9" cy="393.7" r="1.37" fill="#ebe2d0" stroke="#5a7670" stroke-width="0.3"/>
<circle cx="289.2" cy="360.8" r="1.20" fill="#ebe2d0" stroke="#5a7670" stroke-width="0.3"/>
<circle cx="296.5" cy="365.4" r="1.06" fill="#ebe2d0" stroke="#5a7670" stroke-width="0.3"/>
<circle cx="295.6" cy="384.4" r="1.14" fill="#ebe2d0" stroke="#5a7670" stroke-width="0.3"/>
<circle cx="302.7" cy="386.4" r="0.97" fill="#ebe2d0" stroke="#5a7670" stroke-width="0.3"/>
<circle cx="294.6" cy="371.7" r="1.26" fill="#ebe2d0" stroke="#5a7670" stroke-width="0.3"/>
<circle cx="297.8" cy="379.5" r="1.36" fill="#ebe2d0" stroke="#5a7670" stroke-width="0.3"/>
<circle cx="301.0" cy="401.1" r="1.33" fill="#ebe2d0" stroke="#5a7670" stroke-width="0.3"/>
<circle cx="304.0" cy="367.8" r="1.12" fill="#ebe2d0" stroke="#5a7670" stroke-width="0.3"/>
<circle cx="318.1" cy="389.9" r="1.32" fill="#ebe2d0" stroke="#5a7670" stroke-width="0.3"/>
<circle cx="283.0" cy="360.9" r="1.07" fill="#ebe2d0" stroke="#5a7670" stroke-width="0.3"/>
<circle cx="304.6" cy="357.2" r="1.21" fill="#ebe2d0" stroke="#5a7670" stroke-width="0.3"/>
<circle cx="304.2" cy="384.8" r="0.93" fill="#ebe2d0" stroke="#5a7670" stroke-width="0.3"/>
<circle cx="291.3" cy="354.2" r="0.97" fill="#ebe2d0" stroke="#5a7670" stroke-width="0.3"/>
<circle cx="305.9" cy="364.0" r="1.11" fill="#ebe2d0" stroke="#5a7670" stroke-width="0.3"/>
<circle cx="304.1" cy="386.6" r="1.32" fill="#ebe2d0" stroke="#5a7670" stroke-width="0.3"/>
<circle cx="290.2" cy="384.4" r="1.15" fill="#ebe2d0" stroke="#5a7670" stroke-width="0.3"/>
<circle cx="285.0" cy="398.7" r="0.96" fill="#ebe2d0" stroke="#5a7670" stroke-width="0.3"/>
<circle cx="302.6" cy="373.6" r="1.35" fill="#ebe2d0" stroke="#5a7670" stroke-width="0.3"/>
<circle cx="289.7" cy="363.3" r="1.14" fill="#ebe2d0" stroke="#5a7670" stroke-width="0.3"/>
<circle cx="292.8" cy="388.3" r="1.00" fill="#ebe2d0" stroke="#5a7670" stroke-width="0.3"/>
<circle cx="277.7" cy="395.5" r="1.40" fill="#ebe2d0" stroke="#5a7670" stroke-width="0.3"/>
<circle cx="303.8" cy="370.5" r="1.04" fill="#ebe2d0" stroke="#5a7670" stroke-width="0.3"/>
<circle cx="301.3" cy="370.4" r="1.26" fill="#ebe2d0" stroke="#5a7670" stroke-width="0.3"/>
<circle cx="288.5" cy="401.2" r="0.91" fill="#ebe2d0" stroke="#5a7670" stroke-width="0.3"/>
<circle cx="301.7" cy="359.2" r="0.97" fill="#ebe2d0" stroke="#5a7670" stroke-width="0.3"/>
<circle cx="321.5" cy="374.8" r="1.16" fill="#ebe2d0" stroke="#5a7670" stroke-width="0.3"/>
<circle cx="303.2" cy="391.5" r="1.36" fill="#ebe2d0" stroke="#5a7670" stroke-width="0.3"/>
<circle cx="300.2" cy="395.2" r="0.97" fill="#ebe2d0" stroke="#5a7670" stroke-width="0.3"/>
<circle cx="306.4" cy="396.7" r="1.26" fill="#ebe2d0" stroke="#5a7670" stroke-width="0.3"/>
<circle cx="298.6" cy="381.9" r="0.94" fill="#ebe2d0" stroke="#5a7670" stroke-width="0.3"/>
<circle cx="280.7" cy="362.1" r="1.04" fill="#ebe2d0" stroke="#5a7670" stroke-width="0.3"/>
<circle cx="302.0" cy="395.6" r="1.25" fill="#ebe2d0" stroke="#5a7670" stroke-width="0.3"/>
<circle cx="304.1" cy="354.7" r="1.00" fill="#ebe2d0" stroke="#5a7670" stroke-width="0.3"/>
<circle cx="318.0" cy="384.1" r="1.10" fill="#ebe2d0" stroke="#5a7670" stroke-width="0.3"/>
<circle cx="294.8" cy="368.0" r="1.31" fill="#ebe2d0" stroke="#5a7670" stroke-width="0.3"/>
<circle cx="282.9" cy="396.6" r="1.33" fill="#ebe2d0" stroke="#5a7670" stroke-width="0.3"/>
<circle cx="292.5" cy="374.7" r="1.36" fill="#ebe2d0" stroke="#5a7670" stroke-width="0.3"/>
<circle cx="270.1" cy="378.3" r="1.03" fill="#ebe2d0" stroke="#5a7670" stroke-width="0.3"/>
<circle cx="306.0" cy="398.0" r="1.08" fill="#ebe2d0" stroke="#5a7670" stroke-width="0.3"/>
<circle cx="304.8" cy="389.1" r="1.20" fill="#ebe2d0" stroke="#5a7670" stroke-width="0.3"/>
<circle cx="316.2" cy="375.1" r="1.12" fill="#ebe2d0" stroke="#5a7670" stroke-width="0.3"/>
<circle cx="286.3" cy="373.5" r="1.26" fill="#ebe2d0" stroke="#5a7670" stroke-width="0.3"/>
<circle cx="306.6" cy="350.7" r="1.06" fill="#ebe2d0" stroke="#5a7670" stroke-width="0.3"/>
<circle cx="291.8" cy="357.7" r="1.28" fill="#ebe2d0" stroke="#5a7670" stroke-width="0.3"/>
<circle cx="320.2" cy="384.3" r="1.38" fill="#ebe2d0" stroke="#5a7670" stroke-width="0.3"/>
<circle cx="275.9" cy="375.2" r="1.17" fill="#ebe2d0" stroke="#5a7670" stroke-width="0.3"/>
<circle cx="292.1" cy="373.6" r="1.38" fill="#ebe2d0" stroke="#5a7670" stroke-width="0.3"/>
<circle cx="298.0" cy="386.3" r="0.95" fill="#ebe2d0" stroke="#5a7670" stroke-width="0.3"/>
<circle cx="295.9" cy="399.8" r="0.92" fill="#ebe2d0" stroke="#5a7670" stroke-width="0.3"/>
<circle cx="315.2" cy="387.8" r="1.00" fill="#ebe2d0" stroke="#5a7670" stroke-width="0.3"/>
<circle cx="317.5" cy="376.9" r="1.19" fill="#ebe2d0" stroke="#5a7670" stroke-width="0.3"/>
<circle cx="272.8" cy="371.1" r="0.95" fill="#ebe2d0" stroke="#5a7670" stroke-width="0.3"/>
<circle cx="312.2" cy="357.2" r="0.92" fill="#ebe2d0" stroke="#5a7670" stroke-width="0.3"/>
<circle cx="310.1" cy="388.2" r="1.15" fill="#ebe2d0" stroke="#5a7670" stroke-width="0.3"/>
<circle cx="294.2" cy="384.1" r="1.10" fill="#ebe2d0" stroke="#5a7670" stroke-width="0.3"/>
<circle cx="310.0" cy="390.8" r="1.33" fill="#ebe2d0" stroke="#5a7670" stroke-width="0.3"/>
<circle cx="308.8" cy="391.4" r="1.27" fill="#ebe2d0" stroke="#5a7670" stroke-width="0.3"/>
<circle cx="309.0" cy="396.3" r="1.37" fill="#ebe2d0" stroke="#5a7670" stroke-width="0.3"/>
<circle cx="282.1" cy="386.2" r="1.32" fill="#ebe2d0" stroke="#5a7670" stroke-width="0.3"/>
<circle cx="278.6" cy="371.7" r="1.37" fill="#ebe2d0" stroke="#5a7670" stroke-width="0.3"/>
<circle cx="298.7" cy="358.4" r="1.02" fill="#ebe2d0" stroke="#5a7670" stroke-width="0.3"/>
<circle cx="286.6" cy="390.4" r="1.39" fill="#ebe2d0" stroke="#5a7670" stroke-width="0.3"/>
<circle cx="305.0" cy="349.3" r="1.31" fill="#ebe2d0" stroke="#5a7670" stroke-width="0.3"/>
<circle cx="299.7" cy="369.2" r="1.16" fill="#ebe2d0" stroke="#5a7670" stroke-width="0.3"/>
<circle cx="322.1" cy="367.4" r="1.02" fill="#ebe2d0" stroke="#5a7670" stroke-width="0.3"/>
<circle cx="276.3" cy="385.0" r="1.08" fill="#ebe2d0" stroke="#5a7670" stroke-width="0.3"/>
<circle cx="288.8" cy="373.1" r="1.12" fill="#ebe2d0" stroke="#5a7670" stroke-width="0.3"/>
<circle cx="292.0" cy="374.4" r="0.97" fill="#ebe2d0" stroke="#5a7670" stroke-width="0.3"/>
<circle cx="320.2" cy="369.8" r="1.37" fill="#ebe2d0" stroke="#5a7670" stroke-width="0.3"/>
<circle cx="279.1" cy="355.8" r="1.34" fill="#ebe2d0" stroke="#5a7670" stroke-width="0.3"/>
<circle cx="299.9" cy="371.1" r="1.22" fill="#ebe2d0" stroke="#5a7670" stroke-width="0.3"/>
<circle cx="293.7" cy="397.4" r="1.04" fill="#ebe2d0" stroke="#5a7670" stroke-width="0.3"/>
<circle cx="270.0" cy="367.4" r="1.21" fill="#ebe2d0" stroke="#5a7670" stroke-width="0.3"/>
<circle cx="295.9" cy="394.7" r="1.12" fill="#ebe2d0" stroke="#5a7670" stroke-width="0.3"/>
<circle cx="310.3" cy="369.9" r="1.05" fill="#ebe2d0" stroke="#5a7670" stroke-width="0.3"/>
<circle cx="290.2" cy="366.7" r="1.20" fill="#ebe2d0" stroke="#5a7670" stroke-width="0.3"/>
<circle cx="315.3" cy="369.0" r="1.03" fill="#ebe2d0" stroke="#5a7670" stroke-width="0.3"/>
<circle cx="276.0" cy="378.8" r="0.97" fill="#ebe2d0" stroke="#5a7670" stroke-width="0.3"/>
<circle cx="303.2" cy="381.6" r="1.05" fill="#ebe2d0" stroke="#5a7670" stroke-width="0.3"/>
<circle cx="283.5" cy="382.8" r="1.02" fill="#ebe2d0" stroke="#5a7670" stroke-width="0.3"/>
<circle cx="313.6" cy="385.4" r="1.32" fill="#ebe2d0" stroke="#5a7670" stroke-width="0.3"/>
<circle cx="279.7" cy="361.0" r="1.23" fill="#ebe2d0" stroke="#5a7670" stroke-width="0.3"/>
<circle cx="303.1" cy="397.0" r="1.13" fill="#ebe2d0" stroke="#5a7670" stroke-width="0.3"/>
<circle cx="275.1" cy="368.0" r="1.13" fill="#ebe2d0" stroke="#5a7670" stroke-width="0.3"/>
<circle cx="290.9" cy="387.3" r="1.01" fill="#ebe2d0" stroke="#5a7670" stroke-width="0.3"/>
<circle cx="278.7" cy="373.1" r="1.19" fill="#ebe2d0" stroke="#5a7670" stroke-width="0.3"/>
<circle cx="312.6" cy="375.7" r="1.33" fill="#ebe2d0" stroke="#5a7670" stroke-width="0.3"/>
<circle cx="297.5" cy="395.3" r="1.15" fill="#ebe2d0" stroke="#5a7670" stroke-width="0.3"/>
<circle cx="290.0" cy="401.7" r="1.05" fill="#ebe2d0" stroke="#5a7670" stroke-width="0.3"/>
<circle cx="297.5" cy="363.5" r="0.93" fill="#ebe2d0" stroke="#5a7670" stroke-width="0.3"/>
<circle cx="308.8" cy="361.1" r="0.93" fill="#ebe2d0" stroke="#5a7670" stroke-width="0.3"/>
<circle cx="281.8" cy="386.5" r="1.27" fill="#ebe2d0" stroke="#5a7670" stroke-width="0.3"/>
<circle cx="306.3" cy="382.9" r="1.38" fill="#ebe2d0" stroke="#5a7670" stroke-width="0.3"/>
<circle cx="295.2" cy="363.5" r="1.07" fill="#ebe2d0" stroke="#5a7670" stroke-width="0.3"/>
<circle cx="282.2" cy="392.9" r="1.21" fill="#ebe2d0" stroke="#5a7670" stroke-width="0.3"/>
<circle cx="310.9" cy="354.0" r="1.16" fill="#ebe2d0" stroke="#5a7670" stroke-width="0.3"/>
<circle cx="294.3" cy="350.4" r="1.28" fill="#ebe2d0" stroke="#5a7670" stroke-width="0.3"/>
<circle cx="271.5" cy="378.3" r="1.25" fill="#ebe2d0" stroke="#5a7670" stroke-width="0.3"/>
<circle cx="304.6" cy="369.4" r="1.34" fill="#ebe2d0" stroke="#5a7670" stroke-width="0.3"/>
<circle cx="320.5" cy="375.2" r="1.19" fill="#ebe2d0" stroke="#5a7670" stroke-width="0.3"/>
<circle cx="268.5" cy="374.9" r="1.19" fill="#ebe2d0" stroke="#5a7670" stroke-width="0.3"/>
<circle cx="274.4" cy="386.7" r="1.34" fill="#ebe2d0" stroke="#5a7670" stroke-width="0.3"/>
<circle cx="282.5" cy="363.7" r="1.13" fill="#ebe2d0" stroke="#5a7670" stroke-width="0.3"/>
<circle cx="273.0" cy="380.7" r="1.05" fill="#ebe2d0" stroke="#5a7670" stroke-width="0.3"/>
<circle cx="279.9" cy="387.7" r="1.09" fill="#ebe2d0" stroke="#5a7670" stroke-width="0.3"/>
<circle cx="285.1" cy="396.8" r="1.32" fill="#ebe2d0" stroke="#5a7670" stroke-width="0.3"/>
<circle cx="367.6" cy="372.9" r="35.7" fill="#020806" opacity="0.7" filter="url(#shd)"/>
<circle cx="367.6" cy="372.1" r="34.4" fill="#0a120f"/>
<circle cx="367.6" cy="372.1" r="33.5" fill="#f1e9ec"/>
<circle cx="367.6" cy="372.1" r="31.5" fill="#80a7a3"/>
<g clip-path="url(#c4)">
<rect x="317.4" y="321.9" width="100.5" height="100.5" filter="url(#sw)" opacity="0.15" transform="rotate(170 367.6 372.1)"/>
<rect x="317.4" y="321.9" width="100.5" height="100.5" filter="url(#spk)" opacity="0.15" transform="rotate(90 367.6 372.1)"/>
<rect x="334.1" y="338.6" width="67.0" height="67.0" filter="url(#nz)" opacity="0.08"/>
<circle cx="367.6" cy="372.1" r="28.9" fill="none" stroke="#ddd09a" stroke-width="5" opacity="0.12"/>
</g>
<path d="M339.5,382.4A29.9,29.9 0 0 1 337.8,369.8 M339.0,363.3A29.9,29.9 0 0 1 344.7,352.8 M352.2,346.5A29.9,29.9 0 0 1 372.6,342.6 M376.5,343.6A29.9,29.9 0 0 1 395.9,362.6 M397.4,369.3A29.9,29.9 0 0 1 388.5,393.5 M377.6,400.3A29.9,29.9 0 0 1 350.0,396.2 M345.9,392.7A29.9,29.9 0 0 1 338.1,376.9 M394.4,373.9A26.9,26.9 0 0 1 392.4,382.6 M387.7,390.0A26.9,26.9 0 0 1 372.8,398.5 M360.4,398.0A26.9,26.9 0 0 1 343.5,384.0 M341.0,375.9A26.9,26.9 0 0 1 350.0,351.8" fill="none" stroke="#2f4fd8" stroke-width="1.3" stroke-dasharray="1.9 0.9 1.7 0.7 2.1 0.7 2.9 0.9 2.0 0.5 1.6 0.7 2.0 0.9 2.7 1.2 1.9 0.8 2.2 1.2 1.6 0.8 2.6 0.5 1.5 1.2 2.6 0.8 1.0 1.1"/>
<circle cx="358.7" cy="349.8" r="1.69" fill="#ebe2d0" stroke="#5a7670" stroke-width="0.3"/>
<circle cx="380.7" cy="361.0" r="1.19" fill="#ebe2d0" stroke="#5a7670" stroke-width="0.3"/>
<circle cx="362.9" cy="390.5" r="1.40" fill="#ebe2d0" stroke="#5a7670" stroke-width="0.3"/>
<circle cx="371.9" cy="382.6" r="1.48" fill="#ebe2d0" stroke="#5a7670" stroke-width="0.3"/>
<circle cx="355.0" cy="362.6" r="1.70" fill="#ebe2d0" stroke="#5a7670" stroke-width="0.3"/>
<circle cx="364.0" cy="368.0" r="1.35" fill="#ebe2d0" stroke="#5a7670" stroke-width="0.3"/>
<circle cx="371.0" cy="357.8" r="1.51" fill="#ebe2d0" stroke="#5a7670" stroke-width="0.3"/>
<circle cx="382.2" cy="372.5" r="1.61" fill="#ebe2d0" stroke="#5a7670" stroke-width="0.3"/>
<circle cx="349.0" cy="360.9" r="1.22" fill="#ebe2d0" stroke="#5a7670" stroke-width="0.3"/>
<circle cx="347.9" cy="372.4" r="1.26" fill="#ebe2d0" stroke="#5a7670" stroke-width="0.3"/>
<circle cx="355.9" cy="356.7" r="1.70" fill="#ebe2d0" stroke="#5a7670" stroke-width="0.3"/>
<circle cx="352.4" cy="364.4" r="1.17" fill="#ebe2d0" stroke="#5a7670" stroke-width="0.3"/>
<circle cx="380.4" cy="391.3" r="1.16" fill="#ebe2d0" stroke="#5a7670" stroke-width="0.3"/>
<circle cx="376.4" cy="378.5" r="1.41" fill="#ebe2d0" stroke="#5a7670" stroke-width="0.3"/>
<circle cx="376.8" cy="353.5" r="1.58" fill="#ebe2d0" stroke="#5a7670" stroke-width="0.3"/>
<circle cx="370.3" cy="373.2" r="1.56" fill="#ebe2d0" stroke="#5a7670" stroke-width="0.3"/>
<circle cx="357.7" cy="392.2" r="1.31" fill="#ebe2d0" stroke="#5a7670" stroke-width="0.3"/>
<circle cx="374.2" cy="384.1" r="1.16" fill="#ebe2d0" stroke="#5a7670" stroke-width="0.3"/>
<circle cx="384.2" cy="360.6" r="1.31" fill="#ebe2d0" stroke="#5a7670" stroke-width="0.3"/>
<circle cx="352.0" cy="377.2" r="1.13" fill="#ebe2d0" stroke="#5a7670" stroke-width="0.3"/>
<circle cx="383.2" cy="359.3" r="1.68" fill="#ebe2d0" stroke="#5a7670" stroke-width="0.3"/>
<circle cx="348.2" cy="379.8" r="1.25" fill="#ebe2d0" stroke="#5a7670" stroke-width="0.3"/>
<circle cx="392.2" cy="379.1" r="1.61" fill="#ebe2d0" stroke="#5a7670" stroke-width="0.3"/>
<circle cx="357.7" cy="395.2" r="1.59" fill="#ebe2d0" stroke="#5a7670" stroke-width="0.3"/>
<circle cx="360.8" cy="391.5" r="1.68" fill="#ebe2d0" stroke="#5a7670" stroke-width="0.3"/>
<circle cx="341.8" cy="372.8" r="1.25" fill="#ebe2d0" stroke="#5a7670" stroke-width="0.3"/>
<circle cx="350.3" cy="386.4" r="1.23" fill="#ebe2d0" stroke="#5a7670" stroke-width="0.3"/>
<circle cx="358.6" cy="395.2" r="1.39" fill="#ebe2d0" stroke="#5a7670" stroke-width="0.3"/>
<circle cx="371.1" cy="359.5" r="1.20" fill="#ebe2d0" stroke="#5a7670" stroke-width="0.3"/>
<circle cx="360.4" cy="381.0" r="1.68" fill="#ebe2d0" stroke="#5a7670" stroke-width="0.3"/>
<circle cx="362.6" cy="391.3" r="1.17" fill="#ebe2d0" stroke="#5a7670" stroke-width="0.3"/>
<circle cx="351.5" cy="368.6" r="1.34" fill="#ebe2d0" stroke="#5a7670" stroke-width="0.3"/>
<circle cx="376.1" cy="375.8" r="1.60" fill="#ebe2d0" stroke="#5a7670" stroke-width="0.3"/>
<circle cx="359.8" cy="382.6" r="1.21" fill="#ebe2d0" stroke="#5a7670" stroke-width="0.3"/>
<circle cx="364.9" cy="384.7" r="1.12" fill="#ebe2d0" stroke="#5a7670" stroke-width="0.3"/>
<circle cx="359.7" cy="358.8" r="1.19" fill="#ebe2d0" stroke="#5a7670" stroke-width="0.3"/>
<circle cx="365.4" cy="364.3" r="1.26" fill="#ebe2d0" stroke="#5a7670" stroke-width="0.3"/>
<circle cx="372.4" cy="363.9" r="1.37" fill="#ebe2d0" stroke="#5a7670" stroke-width="0.3"/>
<circle cx="379.9" cy="351.7" r="1.20" fill="#ebe2d0" stroke="#5a7670" stroke-width="0.3"/>
<circle cx="354.0" cy="390.1" r="1.33" fill="#ebe2d0" stroke="#5a7670" stroke-width="0.3"/>
<circle cx="379.3" cy="369.0" r="1.67" fill="#ebe2d0" stroke="#5a7670" stroke-width="0.3"/>
<circle cx="355.0" cy="371.7" r="1.37" fill="#ebe2d0" stroke="#5a7670" stroke-width="0.3"/>
<circle cx="382.8" cy="388.4" r="1.26" fill="#ebe2d0" stroke="#5a7670" stroke-width="0.3"/>
<circle cx="384.0" cy="360.1" r="1.32" fill="#ebe2d0" stroke="#5a7670" stroke-width="0.3"/>
<circle cx="368.1" cy="392.8" r="1.23" fill="#ebe2d0" stroke="#5a7670" stroke-width="0.3"/>
<circle cx="374.1" cy="365.4" r="1.41" fill="#ebe2d0" stroke="#5a7670" stroke-width="0.3"/>
<circle cx="354.3" cy="368.5" r="1.56" fill="#ebe2d0" stroke="#5a7670" stroke-width="0.3"/>
<circle cx="351.5" cy="386.3" r="1.44" fill="#ebe2d0" stroke="#5a7670" stroke-width="0.3"/>
<circle cx="361.4" cy="387.5" r="1.15" fill="#ebe2d0" stroke="#5a7670" stroke-width="0.3"/>
<circle cx="378.4" cy="394.0" r="1.29" fill="#ebe2d0" stroke="#5a7670" stroke-width="0.3"/>
<circle cx="363.0" cy="364.6" r="1.44" fill="#ebe2d0" stroke="#5a7670" stroke-width="0.3"/>
<circle cx="355.5" cy="386.4" r="1.28" fill="#ebe2d0" stroke="#5a7670" stroke-width="0.3"/>
<circle cx="381.1" cy="378.0" r="1.24" fill="#ebe2d0" stroke="#5a7670" stroke-width="0.3"/>
<circle cx="383.4" cy="388.1" r="1.27" fill="#ebe2d0" stroke="#5a7670" stroke-width="0.3"/>
<circle cx="346.9" cy="386.5" r="1.56" fill="#ebe2d0" stroke="#5a7670" stroke-width="0.3"/>
<circle cx="385.8" cy="355.6" r="1.18" fill="#ebe2d0" stroke="#5a7670" stroke-width="0.3"/>
<circle cx="366.8" cy="376.6" r="1.51" fill="#ebe2d0" stroke="#5a7670" stroke-width="0.3"/>
<circle cx="359.5" cy="358.6" r="1.35" fill="#ebe2d0" stroke="#5a7670" stroke-width="0.3"/>
<circle cx="355.6" cy="353.5" r="1.25" fill="#ebe2d0" stroke="#5a7670" stroke-width="0.3"/>
<circle cx="376.6" cy="359.2" r="1.48" fill="#ebe2d0" stroke="#5a7670" stroke-width="0.3"/>
<circle cx="371.3" cy="380.3" r="1.65" fill="#ebe2d0" stroke="#5a7670" stroke-width="0.3"/>
<circle cx="365.4" cy="349.8" r="1.12" fill="#ebe2d0" stroke="#5a7670" stroke-width="0.3"/>
<circle cx="377.9" cy="374.8" r="1.22" fill="#ebe2d0" stroke="#5a7670" stroke-width="0.3"/>
<circle cx="362.2" cy="387.6" r="1.12" fill="#ebe2d0" stroke="#5a7670" stroke-width="0.3"/>
<circle cx="359.7" cy="391.7" r="1.21" fill="#ebe2d0" stroke="#5a7670" stroke-width="0.3"/>
<circle cx="378.3" cy="355.2" r="1.53" fill="#ebe2d0" stroke="#5a7670" stroke-width="0.3"/>
<circle cx="367.1" cy="389.6" r="1.51" fill="#ebe2d0" stroke="#5a7670" stroke-width="0.3"/>
<circle cx="367.1" cy="372.8" r="1.60" fill="#ebe2d0" stroke="#5a7670" stroke-width="0.3"/>
<circle cx="369.9" cy="358.1" r="1.13" fill="#ebe2d0" stroke="#5a7670" stroke-width="0.3"/>
<circle cx="380.2" cy="355.7" r="1.13" fill="#ebe2d0" stroke="#5a7670" stroke-width="0.3"/>
<circle cx="437" cy="375.0" r="36.4" fill="#020806" opacity="0.7" filter="url(#shd)"/>
<circle cx="437" cy="374.2" r="35.1" fill="#0a120f"/>
<circle cx="437" cy="374.2" r="34.2" fill="#f1e9ec"/>
<circle cx="437" cy="374.2" r="32.2" fill="#8fa3a7"/>
<g clip-path="url(#c5)">
<rect x="385.7" y="322.9" width="102.6" height="102.6" filter="url(#sw)" opacity="0.1" transform="rotate(124 437 374.2)"/>
<rect x="385.7" y="322.9" width="102.6" height="102.6" filter="url(#spk)" opacity="0.12" transform="rotate(44 437 374.2)"/>
<rect x="402.8" y="340.0" width="68.4" height="68.4" filter="url(#nz)" opacity="0.08"/>
<circle cx="437" cy="374.2" r="29.6" fill="none" stroke="#ddd09a" stroke-width="5" opacity="0.12"/>
</g>
<path d="M460.4,393.9A30.6,30.6 0 0 1 437.6,404.8 M431.9,404.4A30.6,30.6 0 0 1 409.6,387.9 M406.5,376.2A30.6,30.6 0 0 1 407.7,365.3 M413.1,355.1A30.6,30.6 0 0 1 427.3,345.2 M439.4,343.7A30.6,30.6 0 0 1 462.0,356.6 M465.2,362.2A30.6,30.6 0 0 1 467.6,373.0 M464.7,387.2A30.6,30.6 0 0 1 452.6,400.5 M427.1,348.4A27.6,27.6 0 0 1 449.0,349.4 M458.3,356.7A27.6,27.6 0 0 1 464.6,375.6 M463.1,383.2A27.6,27.6 0 0 1 458.6,391.3 M450.7,398.1A27.6,27.6 0 0 1 434.8,401.7" fill="none" stroke="#2f4fd8" stroke-width="1.3" stroke-dasharray="2.8 0.5 2.5 0.4 2.3 1.0 1.4 0.8 2.9 0.9 2.0 0.6 0.9 0.7 1.7 0.6 1.5 0.5 2.4 0.9 1.3 0.6 1.9 0.8 2.9 0.7 1.5 1.1 1.1 0.9"/>
<circle cx="424.7" cy="395.5" r="1.43" fill="#ebe2d0" stroke="#5a7670" stroke-width="0.3"/>
<circle cx="437.7" cy="363.0" r="1.50" fill="#ebe2d0" stroke="#5a7670" stroke-width="0.3"/>
<circle cx="422.0" cy="363.5" r="1.56" fill="#ebe2d0" stroke="#5a7670" stroke-width="0.3"/>
<circle cx="441.5" cy="366.2" r="1.27" fill="#ebe2d0" stroke="#5a7670" stroke-width="0.3"/>
<circle cx="429.1" cy="383.7" r="1.14" fill="#ebe2d0" stroke="#5a7670" stroke-width="0.3"/>
<circle cx="434.7" cy="386.0" r="1.52" fill="#ebe2d0" stroke="#5a7670" stroke-width="0.3"/>
<circle cx="428.3" cy="377.1" r="1.29" fill="#ebe2d0" stroke="#5a7670" stroke-width="0.3"/>
<circle cx="420.9" cy="377.4" r="1.20" fill="#ebe2d0" stroke="#5a7670" stroke-width="0.3"/>
<circle cx="439.5" cy="375.4" r="1.70" fill="#ebe2d0" stroke="#5a7670" stroke-width="0.3"/>
<circle cx="437.0" cy="366.3" r="1.53" fill="#ebe2d0" stroke="#5a7670" stroke-width="0.3"/>
<circle cx="457.3" cy="371.7" r="1.17" fill="#ebe2d0" stroke="#5a7670" stroke-width="0.3"/>
<circle cx="419.1" cy="375.5" r="1.21" fill="#ebe2d0" stroke="#5a7670" stroke-width="0.3"/>
<circle cx="434.6" cy="373.5" r="1.65" fill="#ebe2d0" stroke="#5a7670" stroke-width="0.3"/>
<circle cx="423.7" cy="357.2" r="1.66" fill="#ebe2d0" stroke="#5a7670" stroke-width="0.3"/>
<circle cx="429.2" cy="363.0" r="1.25" fill="#ebe2d0" stroke="#5a7670" stroke-width="0.3"/>
<circle cx="439.9" cy="377.7" r="1.56" fill="#ebe2d0" stroke="#5a7670" stroke-width="0.3"/>
<circle cx="444.9" cy="361.7" r="1.21" fill="#ebe2d0" stroke="#5a7670" stroke-width="0.3"/>
<circle cx="420.8" cy="355.1" r="1.66" fill="#ebe2d0" stroke="#5a7670" stroke-width="0.3"/>
<circle cx="448.8" cy="395.2" r="1.60" fill="#ebe2d0" stroke="#5a7670" stroke-width="0.3"/>
<circle cx="436.3" cy="358.7" r="1.21" fill="#ebe2d0" stroke="#5a7670" stroke-width="0.3"/>
<circle cx="444.0" cy="360.5" r="1.32" fill="#ebe2d0" stroke="#5a7670" stroke-width="0.3"/>
<circle cx="421.3" cy="369.0" r="1.60" fill="#ebe2d0" stroke="#5a7670" stroke-width="0.3"/>
<circle cx="437.4" cy="379.7" r="1.44" fill="#ebe2d0" stroke="#5a7670" stroke-width="0.3"/>
<circle cx="419.9" cy="356.4" r="1.52" fill="#ebe2d0" stroke="#5a7670" stroke-width="0.3"/>
<circle cx="458.9" cy="359.4" r="1.40" fill="#ebe2d0" stroke="#5a7670" stroke-width="0.3"/>
<circle cx="426.2" cy="374.2" r="1.28" fill="#ebe2d0" stroke="#5a7670" stroke-width="0.3"/>
<circle cx="430.3" cy="370.4" r="1.51" fill="#ebe2d0" stroke="#5a7670" stroke-width="0.3"/>
<circle cx="446.4" cy="389.7" r="1.68" fill="#ebe2d0" stroke="#5a7670" stroke-width="0.3"/>
<circle cx="441.6" cy="377.1" r="1.36" fill="#ebe2d0" stroke="#5a7670" stroke-width="0.3"/>
<circle cx="445.4" cy="395.7" r="1.10" fill="#ebe2d0" stroke="#5a7670" stroke-width="0.3"/>
<circle cx="450.6" cy="353.0" r="1.57" fill="#ebe2d0" stroke="#5a7670" stroke-width="0.3"/>
<circle cx="424.1" cy="380.7" r="1.50" fill="#ebe2d0" stroke="#5a7670" stroke-width="0.3"/>
<circle cx="419.4" cy="372.6" r="1.30" fill="#ebe2d0" stroke="#5a7670" stroke-width="0.3"/>
<circle cx="416.4" cy="382.5" r="1.60" fill="#ebe2d0" stroke="#5a7670" stroke-width="0.3"/>
<circle cx="446.1" cy="367.9" r="1.28" fill="#ebe2d0" stroke="#5a7670" stroke-width="0.3"/>
<circle cx="417.9" cy="381.3" r="1.31" fill="#ebe2d0" stroke="#5a7670" stroke-width="0.3"/>
<circle cx="439.7" cy="381.7" r="1.29" fill="#ebe2d0" stroke="#5a7670" stroke-width="0.3"/>
<circle cx="411.0" cy="380.8" r="1.65" fill="#ebe2d0" stroke="#5a7670" stroke-width="0.3"/>
<circle cx="454.8" cy="354.1" r="1.68" fill="#ebe2d0" stroke="#5a7670" stroke-width="0.3"/>
<circle cx="419.1" cy="357.4" r="1.14" fill="#ebe2d0" stroke="#5a7670" stroke-width="0.3"/>
<circle cx="427.5" cy="355.2" r="1.28" fill="#ebe2d0" stroke="#5a7670" stroke-width="0.3"/>
<circle cx="413.1" cy="362.7" r="1.39" fill="#ebe2d0" stroke="#5a7670" stroke-width="0.3"/>
<circle cx="428.1" cy="362.3" r="1.31" fill="#ebe2d0" stroke="#5a7670" stroke-width="0.3"/>
<circle cx="440.4" cy="371.2" r="1.21" fill="#ebe2d0" stroke="#5a7670" stroke-width="0.3"/>
<circle cx="429.1" cy="357.8" r="1.15" fill="#ebe2d0" stroke="#5a7670" stroke-width="0.3"/>
<circle cx="428.2" cy="360.2" r="1.45" fill="#ebe2d0" stroke="#5a7670" stroke-width="0.3"/>
<circle cx="419.9" cy="384.1" r="1.44" fill="#ebe2d0" stroke="#5a7670" stroke-width="0.3"/>
<circle cx="429.7" cy="379.8" r="1.21" fill="#ebe2d0" stroke="#5a7670" stroke-width="0.3"/>
<circle cx="452.5" cy="361.4" r="1.17" fill="#ebe2d0" stroke="#5a7670" stroke-width="0.3"/>
<circle cx="445.9" cy="363.8" r="1.16" fill="#ebe2d0" stroke="#5a7670" stroke-width="0.3"/>
<circle cx="423.6" cy="371.6" r="1.39" fill="#ebe2d0" stroke="#5a7670" stroke-width="0.3"/>
<circle cx="424.8" cy="369.9" r="1.44" fill="#ebe2d0" stroke="#5a7670" stroke-width="0.3"/>
<circle cx="451.8" cy="386.9" r="1.45" fill="#ebe2d0" stroke="#5a7670" stroke-width="0.3"/>
<circle cx="452.2" cy="382.6" r="1.14" fill="#ebe2d0" stroke="#5a7670" stroke-width="0.3"/>
<circle cx="413.5" cy="383.6" r="1.43" fill="#ebe2d0" stroke="#5a7670" stroke-width="0.3"/>
<circle cx="431.8" cy="351.1" r="1.17" fill="#ebe2d0" stroke="#5a7670" stroke-width="0.3"/>
<circle cx="460.1" cy="372.8" r="1.16" fill="#ebe2d0" stroke="#5a7670" stroke-width="0.3"/>
<circle cx="445.2" cy="359.3" r="1.20" fill="#ebe2d0" stroke="#5a7670" stroke-width="0.3"/>
<circle cx="456.8" cy="369.1" r="1.56" fill="#ebe2d0" stroke="#5a7670" stroke-width="0.3"/>
<circle cx="452.6" cy="392.4" r="1.13" fill="#ebe2d0" stroke="#5a7670" stroke-width="0.3"/>
<circle cx="438.4" cy="390.7" r="1.11" fill="#ebe2d0" stroke="#5a7670" stroke-width="0.3"/>
<circle cx="426.6" cy="367.2" r="1.28" fill="#ebe2d0" stroke="#5a7670" stroke-width="0.3"/>
<circle cx="432.3" cy="357.1" r="1.63" fill="#ebe2d0" stroke="#5a7670" stroke-width="0.3"/>
<circle cx="418.6" cy="356.7" r="1.44" fill="#ebe2d0" stroke="#5a7670" stroke-width="0.3"/>
<circle cx="459.0" cy="361.6" r="1.20" fill="#ebe2d0" stroke="#5a7670" stroke-width="0.3"/>
<circle cx="507.5" cy="374.8" r="36.2" fill="#020806" opacity="0.7" filter="url(#shd)"/>
<circle cx="507.5" cy="374" r="34.9" fill="#0a120f"/>
<circle cx="507.5" cy="374" r="34" fill="#f1e9ec"/>
<circle cx="507.5" cy="374" r="32.0" fill="#91a5a9"/>
<g clip-path="url(#c6)">
<rect x="456.5" y="323.0" width="102.0" height="102.0" filter="url(#sw)" opacity="0.1" transform="rotate(214 507.5 374)"/>
<rect x="456.5" y="323.0" width="102.0" height="102.0" filter="url(#spk)" opacity="0.12" transform="rotate(134 507.5 374)"/>
<rect x="473.5" y="340.0" width="68.0" height="68.0" filter="url(#nz)" opacity="0.08"/>
<circle cx="507.5" cy="374" r="29.4" fill="none" stroke="#ddd09a" stroke-width="5" opacity="0.12"/>
</g>
<path d="M491.0,399.5A30.4,30.4 0 0 1 477.5,378.9 M477.8,367.7A30.4,30.4 0 0 1 493.4,347.1 M497.5,345.3A30.4,30.4 0 0 1 514.4,344.4 M525.2,349.3A30.4,30.4 0 0 1 537.9,374.5 M535.5,385.9A30.4,30.4 0 0 1 530.1,394.4 M521.9,400.8A30.4,30.4 0 0 1 511.3,404.2 M501.6,403.8A30.4,30.4 0 0 1 481.0,389.0 M531.9,361.6A27.4,27.4 0 0 1 533.6,382.2 M531.5,387.3A27.4,27.4 0 0 1 523.6,396.1 M516.9,399.7A27.4,27.4 0 0 1 493.5,397.6 M486.6,391.7A27.4,27.4 0 0 1 481.5,382.7" fill="none" stroke="#2f4fd8" stroke-width="1.3" stroke-dasharray="1.0 1.0 1.2 0.8 1.4 0.9 1.6 0.5 2.7 0.8 2.3 1.0 2.9 0.4 1.6 0.5 1.9 1.1 2.6 0.4 1.2 1.1 2.3 0.7 1.8 0.5 2.7 0.7 2.7 0.9"/>
<circle cx="521.3" cy="381.1" r="1.23" fill="#ebe2d0" stroke="#5a7670" stroke-width="0.3"/>
<circle cx="523.8" cy="361.2" r="1.13" fill="#ebe2d0" stroke="#5a7670" stroke-width="0.3"/>
<circle cx="515.3" cy="388.2" r="1.38" fill="#ebe2d0" stroke="#5a7670" stroke-width="0.3"/>
<circle cx="492.6" cy="366.2" r="1.31" fill="#ebe2d0" stroke="#5a7670" stroke-width="0.3"/>
<circle cx="528.0" cy="374.8" r="1.30" fill="#ebe2d0" stroke="#5a7670" stroke-width="0.3"/>
<circle cx="525.6" cy="376.4" r="1.69" fill="#ebe2d0" stroke="#5a7670" stroke-width="0.3"/>
<circle cx="517.4" cy="376.9" r="1.50" fill="#ebe2d0" stroke="#5a7670" stroke-width="0.3"/>
<circle cx="505.5" cy="388.0" r="1.40" fill="#ebe2d0" stroke="#5a7670" stroke-width="0.3"/>
<circle cx="506.0" cy="394.3" r="1.42" fill="#ebe2d0" stroke="#5a7670" stroke-width="0.3"/>
<circle cx="533.4" cy="366.8" r="1.12" fill="#ebe2d0" stroke="#5a7670" stroke-width="0.3"/>
<circle cx="485.5" cy="365.2" r="1.62" fill="#ebe2d0" stroke="#5a7670" stroke-width="0.3"/>
<circle cx="510.8" cy="352.8" r="1.48" fill="#ebe2d0" stroke="#5a7670" stroke-width="0.3"/>
<circle cx="498.2" cy="384.9" r="1.58" fill="#ebe2d0" stroke="#5a7670" stroke-width="0.3"/>
<circle cx="525.7" cy="355.3" r="1.51" fill="#ebe2d0" stroke="#5a7670" stroke-width="0.3"/>
<circle cx="499.6" cy="396.2" r="1.54" fill="#ebe2d0" stroke="#5a7670" stroke-width="0.3"/>
<circle cx="486.0" cy="372.8" r="1.31" fill="#ebe2d0" stroke="#5a7670" stroke-width="0.3"/>
<circle cx="491.2" cy="368.6" r="1.14" fill="#ebe2d0" stroke="#5a7670" stroke-width="0.3"/>
<circle cx="499.5" cy="387.1" r="1.69" fill="#ebe2d0" stroke="#5a7670" stroke-width="0.3"/>
<circle cx="491.2" cy="375.9" r="1.25" fill="#ebe2d0" stroke="#5a7670" stroke-width="0.3"/>
<circle cx="509.0" cy="389.9" r="1.18" fill="#ebe2d0" stroke="#5a7670" stroke-width="0.3"/>
<circle cx="532.7" cy="375.1" r="1.37" fill="#ebe2d0" stroke="#5a7670" stroke-width="0.3"/>
<circle cx="488.3" cy="380.8" r="1.28" fill="#ebe2d0" stroke="#5a7670" stroke-width="0.3"/>
<circle cx="510.9" cy="380.1" r="1.28" fill="#ebe2d0" stroke="#5a7670" stroke-width="0.3"/>
<circle cx="499.2" cy="395.5" r="1.43" fill="#ebe2d0" stroke="#5a7670" stroke-width="0.3"/>
<circle cx="522.1" cy="368.0" r="1.65" fill="#ebe2d0" stroke="#5a7670" stroke-width="0.3"/>
<circle cx="500.9" cy="370.2" r="1.21" fill="#ebe2d0" stroke="#5a7670" stroke-width="0.3"/>
<circle cx="484.0" cy="361.0" r="1.31" fill="#ebe2d0" stroke="#5a7670" stroke-width="0.3"/>
<circle cx="510.2" cy="356.5" r="1.62" fill="#ebe2d0" stroke="#5a7670" stroke-width="0.3"/>
<circle cx="524.6" cy="381.8" r="1.64" fill="#ebe2d0" stroke="#5a7670" stroke-width="0.3"/>
<circle cx="505.3" cy="387.5" r="1.11" fill="#ebe2d0" stroke="#5a7670" stroke-width="0.3"/>
<circle cx="514.6" cy="386.0" r="1.52" fill="#ebe2d0" stroke="#5a7670" stroke-width="0.3"/>
<circle cx="510.9" cy="390.7" r="1.22" fill="#ebe2d0" stroke="#5a7670" stroke-width="0.3"/>
<circle cx="487.5" cy="358.9" r="1.49" fill="#ebe2d0" stroke="#5a7670" stroke-width="0.3"/>
<circle cx="515.1" cy="395.8" r="1.68" fill="#ebe2d0" stroke="#5a7670" stroke-width="0.3"/>
<circle cx="501.4" cy="369.5" r="1.59" fill="#ebe2d0" stroke="#5a7670" stroke-width="0.3"/>
<circle cx="518.7" cy="362.9" r="1.18" fill="#ebe2d0" stroke="#5a7670" stroke-width="0.3"/>
<circle cx="515.0" cy="392.3" r="1.63" fill="#ebe2d0" stroke="#5a7670" stroke-width="0.3"/>
<circle cx="491.0" cy="354.0" r="1.23" fill="#ebe2d0" stroke="#5a7670" stroke-width="0.3"/>
<circle cx="496.7" cy="394.7" r="1.49" fill="#ebe2d0" stroke="#5a7670" stroke-width="0.3"/>
<circle cx="489.1" cy="386.5" r="1.30" fill="#ebe2d0" stroke="#5a7670" stroke-width="0.3"/>
<circle cx="523.8" cy="380.1" r="1.13" fill="#ebe2d0" stroke="#5a7670" stroke-width="0.3"/>
<circle cx="496.5" cy="362.9" r="1.40" fill="#ebe2d0" stroke="#5a7670" stroke-width="0.3"/>
<circle cx="496.3" cy="366.1" r="1.38" fill="#ebe2d0" stroke="#5a7670" stroke-width="0.3"/>
<circle cx="533.4" cy="376.2" r="1.44" fill="#ebe2d0" stroke="#5a7670" stroke-width="0.3"/>
<circle cx="513.9" cy="373.5" r="1.47" fill="#ebe2d0" stroke="#5a7670" stroke-width="0.3"/>
<circle cx="505.0" cy="358.7" r="1.16" fill="#ebe2d0" stroke="#5a7670" stroke-width="0.3"/>
<circle cx="513.2" cy="382.5" r="1.56" fill="#ebe2d0" stroke="#5a7670" stroke-width="0.3"/>
<circle cx="528.1" cy="387.0" r="1.35" fill="#ebe2d0" stroke="#5a7670" stroke-width="0.3"/>
<circle cx="487.4" cy="369.0" r="1.43" fill="#ebe2d0" stroke="#5a7670" stroke-width="0.3"/>
<circle cx="496.0" cy="356.5" r="1.30" fill="#ebe2d0" stroke="#5a7670" stroke-width="0.3"/>
<circle cx="506.7" cy="360.3" r="1.53" fill="#ebe2d0" stroke="#5a7670" stroke-width="0.3"/>
<circle cx="509.5" cy="350.3" r="1.29" fill="#ebe2d0" stroke="#5a7670" stroke-width="0.3"/>
<circle cx="511.3" cy="347.6" r="1.37" fill="#ebe2d0" stroke="#5a7670" stroke-width="0.3"/>
<circle cx="504.0" cy="393.2" r="1.66" fill="#ebe2d0" stroke="#5a7670" stroke-width="0.3"/>
<circle cx="509.2" cy="375.9" r="1.39" fill="#ebe2d0" stroke="#5a7670" stroke-width="0.3"/>
<circle cx="494.2" cy="354.3" r="1.32" fill="#ebe2d0" stroke="#5a7670" stroke-width="0.3"/>
<circle cx="520.4" cy="373.2" r="1.55" fill="#ebe2d0" stroke="#5a7670" stroke-width="0.3"/>
<circle cx="511.3" cy="376.4" r="1.18" fill="#ebe2d0" stroke="#5a7670" stroke-width="0.3"/>
<circle cx="525.3" cy="381.1" r="1.43" fill="#ebe2d0" stroke="#5a7670" stroke-width="0.3"/>
<circle cx="518.4" cy="397.8" r="1.32" fill="#ebe2d0" stroke="#5a7670" stroke-width="0.3"/>
<circle cx="76.8" cy="449.6" r="37.4" fill="#020806" opacity="0.7" filter="url(#shd)"/>
<circle cx="76.8" cy="448.8" r="36.1" fill="#0a120f"/>
<circle cx="76.8" cy="448.8" r="35.2" fill="#f1e9ec"/>
<circle cx="76.8" cy="448.8" r="33.2" fill="#b5aba8"/>
<g clip-path="url(#c7)">
<rect x="24.0" y="396.0" width="105.6" height="105.6" filter="url(#sw)" opacity="0.35" transform="rotate(107 76.8 448.8)"/>
<rect x="24.0" y="396.0" width="105.6" height="105.6" filter="url(#spl)" opacity="0.35" transform="rotate(67 76.8 448.8)"/>
<rect x="24.0" y="396.0" width="105.6" height="105.6" filter="url(#spk)" opacity="0.12" transform="rotate(27 76.8 448.8)"/>
<path d="M94.6,471.9q-3.0,1.6 -4.2,4.8M88.1,444.0q2.7,4.8 8.0,6.2M75.5,469.9q-9.3,2.3 -16.3,-4.3M100.7,451.3q5.6,7.8 1.1,16.3M63.7,466.7q-3.3,-9.5 -13.3,-10.6M85.8,470.7q-4.1,4.3 -10.1,4.9M72.3,430.4q6.5,2.9 10.5,8.8M89.7,474.1q-9.0,1.8 -12.8,10.2M69.1,431.3q8.2,-1.1 15.6,2.7M56.1,456.9q3.7,-6.1 5.7,-13.0M53.2,445.3q2.5,-8.6 10.3,-13.0M60.9,474.2q-1.4,-4.4 -5.8,-5.8M69.9,476.4q-1.1,3.4 -4.6,4.3M108.7,443.3q3.0,8.0 -2.3,14.7M68.0,437.5q3.4,-1.2 7.0,-0.8M68.6,417.0q2.9,1.8 3.9,5.0M64.8,425.7q1.8,-2.7 3.5,-5.4M64.9,463.9q-4.0,-8.3 -3.5,-17.5M101.3,464.0q-0.8,6.6 -6.6,9.9M90.3,461.4q-4.7,5.8 -9.3,11.6M76.4,456.7q-6.2,-3.0 -11.9,0.9M87.9,469.0q-7.8,0.0 -14.1,-4.4M78.3,459.8q-1.4,3.8 -5.4,4.2M60.6,462.7q-2.0,-2.4 -5.0,-3.6M50.2,447.7q3.9,-5.2 4.8,-11.6M94.8,423.6q4.1,2.8 7.4,6.5M58.4,470.9q-5.2,-1.4 -9.8,-4.1M91.7,440.7q-0.4,9.0 -6.2,15.9M62.6,468.9q-4.5,-1.7 -6.4,-6.1M80.7,437.3q1.2,3.2 3.9,5.3" fill="none" stroke="#d8ccc6" stroke-width="1.5" stroke-linecap="round" opacity="0.45"/>
<path d="M91.2,444.7q2.5,2.0 5.7,2.0M52.0,448.8q-3.7,-2.6 -8.0,-3.7M64.6,468.1q-7.3,0.4 -14.5,-1.4M56.4,440.0q3.6,-5.8 6.4,-11.9M64.3,443.6q3.8,-3.6 2.6,-8.8M69.9,430.8q1.5,-4.6 6.1,-6.1M46.5,449.5q1.0,-6.1 1.5,-12.2M84.1,479.2q-4.8,-3.3 -10.6,-4.6M99.0,423.1q5.3,8.1 0.2,16.4M82.8,430.3q4.1,0.6 7.0,3.6M76.6,461.6q-5.9,-5.2 -12.1,-9.9M90.5,454.0q4.6,5.5 8.4,11.6M79.9,421.4q6.7,5.1 6.7,13.6M64.1,470.4q-5.1,-1.5 -9.2,-5.0M96.1,446.7q-0.6,4.2 -0.3,8.4M84.9,454.6q-4.5,2.7 -9.7,1.8M102.4,457.7q-5.0,5.8 -3.3,13.2M65.4,460.4q-4.3,-4.5 -2.0,-10.3" fill="none" stroke="#55706c" stroke-width="1.1" stroke-linecap="round" opacity="0.3"/>
<rect x="41.6" y="413.6" width="70.4" height="70.4" filter="url(#nz)" opacity="0.06"/>
<circle cx="76.8" cy="448.8" r="30.6" fill="none" stroke="#ddd09a" stroke-width="5" opacity="0.35"/>
</g>
<path d="M55.6,472.2A31.6,31.6 0 0 1 45.2,449.9 M45.7,443.1A31.6,31.6 0 0 1 54.1,426.9 M63.2,420.3A31.6,31.6 0 0 1 89.8,420.0 M96.3,423.9A31.6,31.6 0 0 1 106.6,438.4 M108.4,448.7A31.6,31.6 0 0 1 95.4,474.4 M90.6,477.2A31.6,31.6 0 0 1 60.9,476.1 M56.9,469.4A28.6,28.6 0 0 1 48.2,449.8 M48.7,443.2A28.6,28.6 0 0 1 52.3,434.0 M60.1,425.6A28.6,28.6 0 0 1 75.2,420.2 M84.0,421.1A28.6,28.6 0 0 1 99.2,431.0" fill="none" stroke="#2f4fd8" stroke-width="1.3" stroke-dasharray="2.5 0.4 2.1 0.8 1.8 1.1 1.7 0.8 2.8 0.8 1.9 0.8 2.6 0.9 2.4 0.7 0.9 0.9 2.0 1.0 2.5 0.5 1.3 0.5 2.6 0.5 1.0 1.0 2.0 0.4"/>
<circle cx="148.5" cy="448.5" r="37.2" fill="#020806" opacity="0.7" filter="url(#shd)"/>
<circle cx="148.5" cy="447.7" r="35.9" fill="#0a120f"/>
<circle cx="148.5" cy="447.7" r="35" fill="#f1e9ec"/>
<circle cx="148.5" cy="447.7" r="33.0" fill="#b7adab"/>
<g clip-path="url(#c8)">
<rect x="96.0" y="395.2" width="105.0" height="105.0" filter="url(#sw)" opacity="0.3" transform="rotate(203 148.5 447.7)"/>
<rect x="96.0" y="395.2" width="105.0" height="105.0" filter="url(#spl)" opacity="0.35" transform="rotate(163 148.5 447.7)"/>
<rect x="96.0" y="395.2" width="105.0" height="105.0" filter="url(#spk)" opacity="0.1" transform="rotate(123 148.5 447.7)"/>
<path d="M144.8,446.3q1.7,-5.3 2.1,-10.8M156.7,417.1q4.4,2.4 8.9,4.7M152.2,452.0q-2.8,-4.0 -2.6,-8.9M153.0,468.5q-5.4,-2.9 -10.0,-6.8M154.0,456.5q-7.0,-5.6 -15.8,-4.5M153.3,477.7q-6.3,-0.2 -12.2,-2.6M127.0,455.6q-0.8,-6.6 0.9,-13.0M160.2,475.2q-3.4,-0.2 -6.3,-2.1M134.0,464.5q-5.6,-3.4 -9.0,-9.1M145.4,433.1q7.9,0.1 15.5,-1.9M168.8,433.8q-4.1,4.9 -2.3,11.1M144.8,458.3q-7.7,-5.6 -6.3,-15.1M166.5,466.1q-8.2,2.6 -15.7,6.6M122.3,452.5q-3.4,-3.9 -3.1,-9.0M169.4,462.5q-0.4,9.2 -7.2,15.4M161.7,451.0q-5.5,1.1 -10.1,4.4M154.7,440.6q6.1,-5.1 13.8,-3.4M141.3,440.4q4.9,-1.4 9.5,0.8M143.1,473.7q-6.7,-2.3 -9.0,-8.9M141.1,479.2q-2.5,-9.0 -11.8,-10.1M167.8,446.4q-1.3,5.2 -0.6,10.5M130.1,449.5q3.8,-6.4 8.7,-11.9M174.9,461.0q-5.3,7.3 -14.3,7.0M180.5,442.8q-1.4,4.7 -4.5,8.4M123.6,456.6q-6.7,-7.2 -4.0,-16.7M159.2,431.0q3.7,-1.3 7.0,0.9M153.8,434.4q8.6,0.5 14.8,6.6M174.4,449.9q0.9,5.9 6.6,7.7M170.9,450.7q1.8,4.7 3.0,9.5M143.0,432.0q4.9,-2.6 9.6,0.5" fill="none" stroke="#d8ccc6" stroke-width="1.6" stroke-linecap="round" opacity="0.45"/>
<path d="M120.0,432.4q5.6,-4.0 11.5,-0.5M168.6,454.2q-0.6,6.6 -3.7,12.4M134.9,432.9q3.1,-3.1 7.5,-2.7M137.9,478.1q-6.2,-2.2 -8.2,-8.4M151.9,440.0q3.5,1.1 7.0,2.3M167.0,457.0q-1.8,6.0 -3.4,11.9M159.0,462.4q-3.2,4.9 -8.9,6.2M157.2,456.4q-6.4,7.8 -16.0,4.7M121.8,456.9q-2.6,-7.3 -6.6,-14.0M156.1,471.4q-3.0,4.6 -8.4,3.6M129.2,450.2q2.5,-4.8 -0.1,-9.5M132.9,444.2q7.9,1.5 15.3,-1.6M155.1,454.0q-7.4,-2.9 -12.9,2.8M138.9,442.7q4.7,2.9 10.0,1.5M164.2,436.5q2.1,2.9 5.7,2.4" fill="none" stroke="#55706c" stroke-width="1.0" stroke-linecap="round" opacity="0.3"/>
<rect x="113.5" y="412.7" width="70.0" height="70.0" filter="url(#nz)" opacity="0.06"/>
<circle cx="148.5" cy="447.7" r="30.4" fill="none" stroke="#ddd09a" stroke-width="5" opacity="0.35"/>
</g>
<path d="M122.3,465.0A31.4,31.4 0 0 1 117.9,454.6 M117.1,448.5A31.4,31.4 0 0 1 126.4,425.4 M136.0,418.9A31.4,31.4 0 0 1 148.4,416.3 M155.8,417.2A31.4,31.4 0 0 1 167.1,422.4 M171.3,426.1A31.4,31.4 0 0 1 178.4,438.3 M179.8,445.4A31.4,31.4 0 0 1 167.8,472.5 M153.6,478.7A31.4,31.4 0 0 1 128.5,471.9 M122.4,465.1A31.4,31.4 0 0 1 117.2,445.8 M172.3,432.2A28.4,28.4 0 0 1 176.0,454.7 M171.9,463.8A28.4,28.4 0 0 1 162.8,472.2 M153.5,475.6A28.4,28.4 0 0 1 129.9,469.2 M122.8,459.9A28.4,28.4 0 0 1 120.2,449.9" fill="none" stroke="#2f4fd8" stroke-width="1.3" stroke-dasharray="1.6 0.5 2.9 0.9 2.4 0.5 2.6 1.1 2.8 1.0 2.6 1.0 2.1 0.7 2.6 1.0 2.7 0.6 2.9 0.8 2.9 0.5 2.9 1.0 1.4 1.1 1.3 0.6 1.8 0.6"/>
<circle cx="221.8" cy="449.6" r="37.4" fill="#020806" opacity="0.7" filter="url(#shd)"/>
<circle cx="221.8" cy="448.8" r="36.1" fill="#0a120f"/>
<circle cx="221.8" cy="448.8" r="35.2" fill="#f1e9ec"/>
<circle cx="221.8" cy="448.8" r="33.2" fill="#b9afab"/>
<g clip-path="url(#c9)">
<rect x="169.0" y="396.0" width="105.6" height="105.6" filter="url(#sw)" opacity="0.3" transform="rotate(169 221.8 448.8)"/>
<rect x="169.0" y="396.0" width="105.6" height="105.6" filter="url(#spl)" opacity="0.35" transform="rotate(129 221.8 448.8)"/>
<rect x="169.0" y="396.0" width="105.6" height="105.6" filter="url(#spk)" opacity="0.12" transform="rotate(89 221.8 448.8)"/>
<path d="M203.3,472.1q2.3,-8.0 -3.9,-13.6M201.5,465.9q-2.9,-2.1 -6.5,-2.8M214.3,473.8q-8.3,4.5 -15.4,-1.7M241.6,447.9q0.6,4.0 3.8,6.2M205.0,440.6q-0.0,-4.4 1.7,-8.4M197.4,432.6q1.4,-5.3 6.7,-6.7M214.0,440.6q-1.0,-8.8 5.8,-14.6M250.0,448.2q-0.1,8.7 -6.5,14.5M230.8,439.6q5.9,6.0 13.4,9.9M199.8,472.8q2.5,-6.7 -2.5,-11.7M244.0,443.2q-0.2,4.0 -0.0,7.9M214.1,452.7q7.7,-3.9 15.9,-6.9M227.9,477.9q-5.7,-4.2 -12.5,-2.0M208.6,472.6q1.7,-9.6 -5.5,-16.2M245.8,451.8q0.3,8.9 -2.7,17.3M202.7,435.0q2.2,-4.8 4.0,-9.7M234.7,432.4q10.0,-3.1 17.1,4.5M204.9,426.1q5.1,-3.8 10.7,-6.8M239.9,430.2q3.2,0.8 5.6,3.1M224.7,447.2q7.3,-5.8 16.3,-3.6M194.8,442.4q6.8,-3.5 11.7,-9.3M218.4,433.1q4.7,-0.5 9.4,-1.5M236.2,441.8q6.3,3.3 11.2,8.5M210.8,425.5q1.4,-7.3 6.8,-12.6M206.9,446.6q2.0,-5.3 7.4,-6.9M234.1,434.3q4.2,0.2 7.7,-2.1M218.3,465.8q2.0,-6.0 -2.8,-10.2M238.4,476.8q-5.0,-2.7 -9.7,0.6M219.1,464.4q-3.8,-2.6 -6.6,-6.3M238.5,440.4q3.9,3.1 4.4,8.1" fill="none" stroke="#d8ccc6" stroke-width="1.9" stroke-linecap="round" opacity="0.45"/>
<path d="M218.7,423.8q7.5,0.2 15.0,1.1M203.2,429.3q7.1,-3.3 14.9,-2.0M232.1,436.4q7.1,1.1 12.0,6.3M248.1,447.9q-0.5,8.0 0.4,15.9M237.0,439.2q1.9,2.9 4.1,5.5M204.5,424.5q5.5,2.3 11.0,-0.1M224.9,457.9q-6.9,-1.2 -13.5,1.3M208.7,467.0q-8.1,-4.2 -17.1,-2.7M208.6,464.2q1.1,-4.5 -2.0,-8.0M199.3,452.8q3.9,-7.0 -0.0,-14.0M217.0,464.4q1.7,-6.5 -2.4,-11.8M195.1,440.3q4.5,-3.0 8.3,-6.9M227.9,432.8q2.4,3.2 6.1,4.9M199.5,455.6q-0.9,-9.6 -9.6,-13.8M229.7,425.1q3.9,0.5 7.5,-1.2M201.3,436.4q-2.2,-5.0 1.2,-9.2M228.6,425.6q4.9,-0.8 8.1,3.0M246.7,437.0q2.0,7.7 0.9,15.6" fill="none" stroke="#55706c" stroke-width="1.2" stroke-linecap="round" opacity="0.3"/>
<rect x="186.6" y="413.6" width="70.4" height="70.4" filter="url(#nz)" opacity="0.06"/>
<circle cx="221.8" cy="448.8" r="30.6" fill="none" stroke="#ddd09a" stroke-width="5" opacity="0.35"/>
</g>
<path d="M250.2,462.6A31.6,31.6 0 0 1 229.0,479.6 M221.8,480.4A31.6,31.6 0 0 1 212.4,479.0 M202.6,473.9A31.6,31.6 0 0 1 194.4,464.5 M191.7,458.4A31.6,31.6 0 0 1 190.2,447.8 M191.7,439.2A31.6,31.6 0 0 1 204.7,422.2 M217.1,417.6A31.6,31.6 0 0 1 227.4,417.7 M239.9,422.9A31.6,31.6 0 0 1 248.2,431.4 M251.0,436.7A31.6,31.6 0 0 1 251.5,459.5 M248.2,466.2A31.6,31.6 0 0 1 235.7,477.2 M227.5,476.8A28.6,28.6 0 0 1 204.4,471.5 M200.6,468.0A28.6,28.6 0 0 1 193.5,444.4 M197.8,433.2A28.6,28.6 0 0 1 212.9,421.6" fill="none" stroke="#2f4fd8" stroke-width="1.3" stroke-dasharray="2.5 0.4 1.9 0.7 0.9 0.9 2.4 0.9 1.7 0.8 2.1 0.6 2.7 1.2 2.6 1.2 1.5 1.2 1.0 0.8 1.1 0.8 2.3 1.0 1.8 0.7 1.2 0.7 1.4 0.6"/>
<circle cx="295.6" cy="448.5" r="37.4" fill="#020806" opacity="0.7" filter="url(#shd)"/>
<circle cx="295.6" cy="447.7" r="36.1" fill="#0a120f"/>
<circle cx="295.6" cy="447.7" r="35.2" fill="#f1e9ec"/>
<circle cx="295.6" cy="447.7" r="33.2" fill="#b0a494"/>
<g clip-path="url(#c10)">
<rect x="242.8" y="394.9" width="105.6" height="105.6" filter="url(#sw)" opacity="0.2" transform="rotate(212 295.6 447.7)"/>
<rect x="242.8" y="394.9" width="105.6" height="105.6" filter="url(#spl)" opacity="0.5" transform="rotate(172 295.6 447.7)"/>
<rect x="242.8" y="394.9" width="105.6" height="105.6" filter="url(#spk)" opacity="0.85" transform="rotate(132 295.6 447.7)"/>
<path d="M285.4,435.8q6.6,0.4 12.4,-2.8M286.9,414.3q6.7,7.5 16.6,5.3M287.5,421.4q3.0,1.8 6.1,0.4M273.9,431.2q3.0,-3.6 7.2,-5.7M284.1,439.8q2.3,-2.7 5.9,-2.7M306.1,430.3q4.9,6.1 9.0,12.8M308.9,451.8q-6.9,-1.7 -10.9,4.1M300.3,414.4q1.4,6.3 7.1,9.3M305.4,450.7q0.3,4.5 -2.3,8.2M295.4,439.2q0.2,8.6 8.0,12.1M270.7,466.7q-0.2,-8.7 -7.2,-14.0M305.9,444.5q0.6,4.3 2.2,8.3M317.5,443.7q0.5,6.8 -5.5,10.2M268.5,444.4q-2.4,-2.6 -3.4,-6.0M310.0,430.4q4.5,-0.5 8.2,2.0M275.9,470.5q-2.0,-3.1 -4.6,-5.6M303.6,453.2q-6.0,3.8 -9.1,10.1M318.8,450.3q-0.7,8.6 -8.8,11.8M282.0,462.7q-3.2,-3.2 -7.4,-4.9M272.9,454.8q-1.4,-4.2 -5.8,-5.1M320.1,453.2q-1.7,4.1 -4.5,7.5M309.5,416.3q-3.7,6.1 -3.0,13.3M303.9,451.0q-3.2,2.1 -6.5,0.1M307.4,437.5q1.1,4.3 4.1,7.6M272.6,426.3q2.5,-4.0 7.1,-3.2M321.6,456.5q-6.6,6.4 -8.8,15.4M297.4,432.9q2.0,3.4 5.8,4.4M320.9,429.9q-1.4,3.1 0.2,6.0M299.2,427.8q6.9,1.6 12.9,-2.2M306.6,445.0q-1.1,6.4 -5.5,11.3M316.0,440.7q-4.3,7.6 -1.6,15.9M315.3,457.1q-2.4,7.1 -9.0,10.4M316.2,459.4q-4.2,4.2 -9.9,2.7M304.4,421.8q9.3,0.5 13.7,8.6M295.7,467.8q-4.7,-6.4 -12.5,-4.5M322.3,445.5q2.4,3.1 1.2,6.8M274.0,438.0q1.3,-5.3 1.0,-10.8M313.4,428.8q1.3,7.9 7.8,12.6M305.0,418.6q4.3,6.6 12.2,7.2M307.3,430.8q1.4,4.6 6.1,5.4M285.2,429.3q4.5,-2.7 9.7,-3.1M287.2,459.9q1.3,-9.0 -1.2,-17.7M292.8,412.2q6.9,3.9 10.2,11.0M285.3,455.0q-2.7,1.9 -6.0,1.6M315.7,428.6q2.9,8.2 11.3,10.3M265.6,444.6q3.8,-1.2 5.4,-4.8M280.3,443.4q-0.7,-9.7 6.3,-16.4M276.2,430.9q7.0,2.1 12.1,-3.1M309.8,435.3q3.7,1.0 5.7,4.2M306.4,438.6q3.0,-1.2 6.2,-0.4M323.3,439.0q-3.2,6.6 -2.7,14.0M292.1,418.8q4.7,0.5 8.1,3.8M285.8,446.5q8.7,-2.1 15.9,-7.4M275.9,429.6q6.8,-0.2 12.6,-3.7M314.1,450.0q-0.4,5.8 -5.3,8.9M286.1,456.9q1.4,-9.0 -1.9,-17.5M292.9,430.5q4.8,0.4 9.4,1.9M272.7,463.7q-5.5,-6.4 -2.9,-14.5M285.6,477.6q-8.3,-2.2 -12.9,-9.3M298.2,418.8q7.3,-0.5 13.7,3.3" fill="none" stroke="#e6d4c6" stroke-width="0.9" stroke-linecap="round" opacity="0.5"/>
<path d="M285.6,439.7q2.1,-4.1 6.6,-4.9M301.3,443.1q3.2,4.4 7.9,7.1M306.8,467.3q-5.4,7.4 -14.6,7.2M280.8,475.9q-7.9,-2.4 -10.5,-10.2M298.3,473.3q-2.3,3.2 -6.0,4.2M294.3,477.1q-3.9,-4.0 -9.6,-4.5M303.9,457.4q-4.0,3.5 -6.3,8.2M308.9,429.0q0.6,3.3 2.7,6.1M302.0,476.5q-3.7,-0.2 -7.3,-0.8M318.8,458.8q-1.2,3.5 -2.6,6.9M298.7,457.6q-1.0,3.3 -3.1,6.0M312.4,433.8q6.2,3.9 5.7,11.3M287.9,438.1q9.7,-1.5 14.3,-10.2M300.3,440.6q6.3,1.7 10.1,7.0M300.7,434.9q1.6,5.1 6.8,6.2M289.8,425.7q3.4,0.8 6.6,2.0M302.4,461.4q-4.1,1.9 -3.8,6.4M305.8,464.4q-1.6,2.7 -2.0,5.8M313.0,447.1q6.2,2.3 9.4,8.1M271.8,436.8q5.1,-5.8 12.8,-5.2M319.3,433.8q0.1,6.0 5.3,9.0M296.2,454.4q-2.3,7.2 2.6,12.9M299.9,453.5q-1.2,4.0 -4.9,5.9M265.1,439.1q6.4,-5.9 14.2,-9.9M322.1,443.9q-1.0,5.8 -1.7,11.6M264.2,458.1q2.6,-8.7 2.1,-17.8M300.3,430.0q4.5,4.1 5.2,10.2M279.7,480.0q1.5,-5.4 5.1,-9.6M318.5,443.8q7.7,6.0 4.7,15.2M300.1,471.7q-5.7,-0.2 -11.4,0.6M317.1,460.2q-0.8,9.7 -8.9,15.1M278.1,448.5q7.3,0.9 12.1,-4.7M298.2,449.7q-1.2,5.6 -3.8,10.8M272.1,421.0q6.9,6.8 15.9,3.5M305.4,435.3q9.0,3.6 10.7,13.2M292.2,447.6q-0.3,5.6 4.8,8.2M277.4,464.6q-6.7,-4.5 -14.6,-5.8M313.0,458.3q-1.8,4.2 -1.6,8.8M302.2,421.0q3.4,3.5 1.9,8.1M268.6,439.1q1.4,-4.0 0.5,-8.2M300.5,457.3q0.0,8.2 -7.2,12.1M270.7,429.2q5.9,1.0 11.6,-0.9M318.1,444.5q4.3,6.0 10.7,9.8M305.3,437.2q5.8,5.9 6.3,14.1M312.5,434.1q-1.7,9.9 5.8,16.6M290.0,429.7q3.5,4.0 8.4,6.1M316.9,463.4q0.3,5.5 -4.6,7.9M283.5,459.0q-0.3,-6.4 5.1,-9.8M312.3,434.7q6.0,4.1 11.2,9.2M281.3,452.0q2.0,-2.5 2.7,-5.6M285.7,464.7q2.9,-7.6 2.7,-15.8M280.1,425.8q7.7,-5.6 17.1,-4.0M293.6,474.5q-6.1,-4.1 -13.1,-1.8M266.7,431.7q4.5,-2.3 8.3,1.1M289.1,425.0q3.1,-1.3 6.1,0.3M321.5,444.0q1.6,4.3 0.3,8.8M321.3,437.0q-5.1,9.0 1.1,17.2M295.4,459.5q-6.3,0.1 -11.9,-2.9M274.6,453.7q-0.6,-3.8 2.0,-6.7M281.7,440.6q7.3,-1.9 14.3,0.9M287.9,421.1q4.6,1.5 8.0,-1.9M319.5,451.6q-2.7,3.1 -3.4,7.1M283.9,427.5q8.4,-3.1 15.4,2.5M311.5,470.3q-7.1,-3.4 -14.5,-0.7M305.2,476.2q-6.8,2.2 -12.6,-1.9M280.1,441.2q3.7,0.4 7.3,-0.5M298.7,456.8q0.2,8.8 -7.8,12.4M305.0,472.7q-4.8,0.2 -9.2,2.2M271.4,431.9q5.0,-0.3 9.4,-2.7M305.4,456.8q-2.6,3.9 -2.0,8.5" fill="none" stroke="#3a625f" stroke-width="1.0" stroke-linecap="round" opacity="0.45"/>
<rect x="260.4" y="412.5" width="70.4" height="70.4" filter="url(#nz)" opacity="0.12"/>
<circle cx="295.6" cy="447.7" r="30.6" fill="none" stroke="#ddd09a" stroke-width="5" opacity="0.35"/>
</g>
<path d="M289.0,416.8A31.6,31.6 0 0 1 317.4,424.8 M324.8,435.6A31.6,31.6 0 0 1 327.0,451.6 M325.3,458.5A31.6,31.6 0 0 1 308.4,476.6 M304.8,477.9A31.6,31.6 0 0 1 282.4,476.4 M278.6,474.3A31.6,31.6 0 0 1 270.8,467.3 M266.1,458.9A31.6,31.6 0 0 1 264.0,446.4 M268.1,432.1A31.6,31.6 0 0 1 291.1,416.4 M304.8,474.8A28.6,28.6 0 0 1 294.0,476.3 M285.6,474.5A28.6,28.6 0 0 1 271.2,462.6 M268.3,456.2A28.6,28.6 0 0 1 270.5,434.0 M275.9,427.0A28.6,28.6 0 0 1 297.9,419.2" fill="none" stroke="#2f4fd8" stroke-width="1.3" stroke-dasharray="1.0 0.7 1.9 0.6 2.3 0.6 1.5 0.8 2.4 1.0 1.6 0.8 2.8 1.1 2.2 0.5 1.8 0.9 1.4 0.4 3.0 1.1 1.1 0.8 2.2 0.6 1.0 1.0 2.5 0.7"/>
<circle cx="368.4" cy="450.1" r="35.8" fill="#020806" opacity="0.7" filter="url(#shd)"/>
<circle cx="368.4" cy="449.3" r="34.5" fill="#0a120f"/>
<circle cx="368.4" cy="449.3" r="33.6" fill="#f1e9ec"/>
<circle cx="368.4" cy="449.3" r="31.6" fill="#c6d2c9"/>
<g clip-path="url(#c11)">
<rect x="318.0" y="398.9" width="100.8" height="100.8" filter="url(#sw)" opacity="0.2" transform="rotate(95 368.4 449.3)"/>
<rect x="318.0" y="398.9" width="100.8" height="100.8" filter="url(#spl)" opacity="0.6" transform="rotate(55 368.4 449.3)"/>
<rect x="318.0" y="398.9" width="100.8" height="100.8" filter="url(#spk)" opacity="0.65" transform="rotate(15 368.4 449.3)"/>
<path d="M397.2,454.9q0.8,4.3 -2.4,7.2M378.3,458.1q-4.9,-4.8 -11.7,-4.1M378.7,458.4q-3.8,4.2 -9.4,3.5M382.0,443.1q2.0,3.4 1.6,7.2M388.4,424.5q-1.4,8.7 -0.3,17.5M358.7,457.1q-4.4,-6.3 -11.7,-8.7M379.9,458.4q-7.6,2.6 -15.7,1.7M373.7,463.4q-6.2,-3.3 -11.6,1.3M372.7,433.3q4.2,6.4 5.4,13.9M362.3,461.7q-2.0,-8.7 -10.2,-12.1M393.9,443.0q-8.1,5.8 -6.3,15.6M371.0,432.3q8.3,0.8 14.5,6.4M359.3,462.9q-3.9,0.5 -7.1,-1.8M347.3,470.5q0.5,-7.7 -5.7,-12.4M376.5,480.3q-5.6,-7.6 -14.5,-10.5M373.9,424.6q4.2,1.9 8.8,1.9M376.8,429.0q-0.8,5.4 2.7,9.7M376.7,426.9q-2.9,8.7 2.8,15.9M379.9,438.3q3.0,7.6 -2.6,13.6M345.4,445.8q-4.4,-3.9 -6.7,-9.3M369.4,420.9q5.2,1.2 8.5,5.5M367.2,457.4q-3.2,-1.1 -6.3,0.4M385.3,454.6q-4.1,0.9 -8.3,1.4M369.2,424.6q7.1,5.6 10.5,14.0M379.8,432.9q7.7,0.0 14.3,3.9M342.2,440.3q1.9,-3.2 2.9,-6.7M346.4,453.0q-3.2,-7.9 -9.5,-13.6M364.3,461.8q-3.3,-5.2 -9.4,-4.4M391.4,463.2q-5.2,4.0 -11.0,7.0M348.2,462.6q-2.4,-2.7 -4.9,-5.1M367.6,421.7q6.7,4.6 14.6,3.1M379.1,431.1q0.4,9.0 -0.9,17.9M359.0,431.5q4.8,-1.0 9.6,0.2M383.7,469.7q-5.5,3.0 -11.1,6.0M384.7,474.5q1.3,-6.8 -2.5,-12.5M375.9,437.1q1.3,6.6 6.5,10.8M352.8,472.6q-2.2,-2.2 -4.4,-4.5M386.9,425.3q4.2,7.7 8.6,15.2M337.8,445.5q3.3,-7.1 8.1,-13.4M371.2,474.4q-4.4,-1.7 -8.2,-4.3M350.0,458.0q-1.0,-5.2 -4.7,-8.9M375.0,474.4q-4.5,0.3 -9.0,0.8M356.4,448.0q4.0,-5.5 4.2,-12.3M355.7,427.3q5.8,-5.0 13.4,-5.7M396.7,433.1q-1.9,6.3 -8.2,7.8M372.0,434.9q2.1,7.6 -2.7,13.9M348.8,437.6q5.3,-6.1 13.3,-7.4M380.3,458.1q-5.3,1.6 -9.8,4.8M380.8,461.4q-3.3,2.7 -7.6,3.4M382.7,467.4q-5.7,1.6 -11.5,2.2" fill="none" stroke="#e8ece6" stroke-width="1.6" stroke-linecap="round" opacity="0.55"/>
<path d="M377.9,465.9q-1.4,4.5 -6.0,5.4M389.5,439.8q4.0,3.8 6.2,8.9M359.6,467.6q-1.3,-4.2 -5.5,-5.6M385.6,444.0q3.2,7.9 10.4,12.4M350.8,437.2q5.3,-2.3 11.1,-1.4M350.9,434.8q8.7,-0.5 12.0,-8.7M358.7,463.9q3.7,-5.6 4.4,-12.3M378.5,441.9q6.3,0.7 12.2,3.1M380.0,455.4q-1.6,2.9 -4.3,4.7M348.7,455.0q2.0,-5.6 -1.6,-10.2M345.9,448.2q4.8,-3.6 10.7,-4.7M349.4,443.7q2.7,-7.7 9.5,-12.2M359.8,464.6q-6.2,-2.0 -10.1,-7.3M373.9,430.4q0.9,4.0 3.8,7.0M368.7,449.7q2.7,3.2 2.5,7.3M361.2,459.8q7.6,-1.4 13.2,-6.8M391.6,439.9q3.4,2.3 7.1,0.4M379.9,461.7q-7.6,3.5 -9.3,11.7M387.9,454.4q-7.6,2.2 -8.4,10.1M370.2,450.3q4.3,-1.5 7.2,1.9M347.6,432.6q4.0,-0.9 7.6,-3.0M390.7,439.7q-1.8,5.9 3.0,9.9M356.1,470.0q3.0,-10.3 -5.6,-16.8M383.5,470.1q-3.2,3.2 -7.7,2.7M360.7,428.6q8.4,-0.9 12.6,6.4M367.4,427.8q6.1,2.1 11.9,5.0M341.2,440.0q8.4,-4.8 9.6,-14.4M338.9,440.9q2.3,-3.6 6.5,-4.2M355.2,428.2q6.5,4.2 13.1,8.1M363.6,446.5q5.3,1.9 10.9,1.3M361.1,434.7q8.9,-5.0 8.6,-15.2M360.9,475.4q-3.5,-4.3 -3.7,-9.8M367.6,418.5q7.2,5.8 16.4,7.2M365.9,435.8q3.8,-2.7 6.6,-6.4M367.3,439.5q8.9,-4.4 17.0,1.2M365.8,420.5q3.8,1.7 7.8,0.5M379.1,434.0q9.8,-1.7 16.1,6.0M389.8,460.4q1.9,4.9 -1.2,9.2M343.7,466.5q0.5,-7.5 -2.1,-14.6M356.8,456.6q-0.4,-7.9 4.7,-13.9" fill="none" stroke="#3a7270" stroke-width="0.9" stroke-linecap="round" opacity="0.4"/>
<rect x="334.8" y="415.7" width="67.2" height="67.2" filter="url(#nz)" opacity="0.12"/>
<circle cx="368.4" cy="449.3" r="29.0" fill="none" stroke="#ddd09a" stroke-width="5" opacity="0.35"/>
</g>
<path d="M363.2,478.8A30.0,30.0 0 0 1 348.3,471.6 M340.4,460.1A30.0,30.0 0 0 1 343.5,432.6 M354.6,422.7A30.0,30.0 0 0 1 372.0,419.5 M381.4,422.3A30.0,30.0 0 0 1 397.4,441.7 M398.1,453.7A30.0,30.0 0 0 1 390.0,470.1 M379.0,477.4A30.0,30.0 0 0 1 361.8,478.6 M349.0,472.2A30.0,30.0 0 0 1 339.3,456.4 M368.2,422.3A27.0,27.0 0 0 1 378.8,424.4 M387.2,429.9A27.0,27.0 0 0 1 392.5,437.2 M395.4,450.1A27.0,27.0 0 0 1 388.9,466.9 M380.5,473.4A27.0,27.0 0 0 1 370.4,476.2 M360.9,475.2A27.0,27.0 0 0 1 348.2,467.2" fill="none" stroke="#2f4fd8" stroke-width="1.3" stroke-dasharray="2.6 0.4 1.9 0.5 2.7 1.1 0.9 0.8 1.8 1.0 2.4 0.7 2.9 0.5 1.1 1.1 1.1 0.5 1.9 0.7 1.2 1.1 1.8 1.0 1.4 1.1 1.3 1.1 2.1 1.2"/>
<circle cx="437.4" cy="449.8" r="36.6" fill="#020806" opacity="0.7" filter="url(#shd)"/>
<circle cx="437.4" cy="449" r="35.3" fill="#0a120f"/>
<circle cx="437.4" cy="449" r="34.4" fill="#f1e9ec"/>
<circle cx="437.4" cy="449" r="32.4" fill="#b3a89a"/>
<g clip-path="url(#c12)">
<rect x="385.8" y="397.4" width="103.2" height="103.2" filter="url(#sw)" opacity="0.2" transform="rotate(219 437.4 449)"/>
<rect x="385.8" y="397.4" width="103.2" height="103.2" filter="url(#spl)" opacity="0.45" transform="rotate(179 437.4 449)"/>
<rect x="385.8" y="397.4" width="103.2" height="103.2" filter="url(#spk)" opacity="0.6" transform="rotate(139 437.4 449)"/>
<path d="M407.3,465.6q5.5,-5.9 7.5,-13.7M445.3,478.1q-3.6,-5.2 -9.9,-6.0M462.7,428.9q1.9,6.1 2.2,12.5M451.3,458.4q-5.8,0.1 -11.6,0.1M433.3,461.5q-6.9,2.1 -12.9,-1.8M425.6,474.8q-4.3,-9.6 -14.9,-9.2M422.6,447.2q3.9,-5.2 9.9,-7.8M442.6,454.3q-3.8,0.8 -7.5,-0.7M410.7,442.4q6.1,0.1 8.9,-5.3M413.7,450.7q2.4,-8.1 0.8,-16.3M421.9,442.2q3.9,-3.6 2.2,-8.7M450.8,446.7q-4.5,5.1 -11.3,5.6M459.8,460.7q-8.2,-0.9 -12.9,5.9M420.8,428.2q-1.0,-8.8 6.9,-12.8M430.7,458.4q-3.8,-6.8 1.2,-12.8M448.8,433.1q2.5,6.7 9.2,9.3M441.0,454.9q-1.0,-4.1 -5.1,-5.1M448.2,432.2q2.2,5.9 1.4,12.1M417.2,472.4q-0.0,-9.6 -9.0,-13.2M432.9,440.6q3.4,-3.9 8.6,-3.5M421.1,427.3q5.6,7.2 13.2,12.1M455.0,464.1q-5.0,5.4 -9.1,11.5M449.5,435.4q4.1,1.6 5.3,5.8M441.2,425.1q3.5,1.8 7.1,3.6M416.4,443.5q-2.2,-2.9 -0.7,-6.1M446.2,471.1q-8.0,0.2 -14.3,-4.8M443.7,478.9q-5.3,-1.2 -9.6,-4.7M448.9,476.5q-6.3,-4.6 -13.8,-2.7M414.7,452.0q0.2,-4.8 4.5,-6.8M436.3,458.2q-2.8,-2.2 -6.3,-3.2M434.0,465.0q-2.6,4.2 -7.5,4.8M437.2,468.2q-6.2,-6.3 -14.7,-8.4M455.3,464.5q-8.3,0.1 -15.8,3.5M426.6,442.9q2.3,-2.4 4.6,-4.8M455.2,454.8q-1.5,6.5 -7.5,9.5M420.8,462.4q-8.0,0.2 -12.3,-6.6M466.6,445.5q2.1,4.4 -0.7,8.4M464.4,443.4q-0.3,5.3 -3.7,9.3M446.1,470.2q-2.9,5.5 -8.9,6.7M424.1,453.9q9.7,-3.8 11.1,-14.1M429.4,455.7q-1.7,-6.8 -3.3,-13.7M438.3,478.5q-6.7,-6.6 -16.0,-6.2M455.3,459.9q-6.2,4.0 -9.5,10.6M459.7,442.3q-0.4,3.4 1.1,6.5M462.2,461.7q-5.7,3.7 -8.2,10.1M426.4,433.7q5.4,-0.1 9.9,-3.2M452.4,443.4q-0.3,3.7 1.7,6.9M416.0,430.2q4.3,-1.1 5.8,-5.3M457.5,463.1q1.0,3.4 -1.7,5.8M446.3,428.1q5.9,7.1 7.8,16.2M436.4,416.2q6.6,6.1 15.1,9.1M410.5,441.3q-0.1,-4.2 -0.4,-8.3M432.7,468.8q-7.0,0.7 -12.6,-3.5M418.9,454.2q1.9,-5.8 5.0,-10.9M453.1,467.0q-7.3,3.1 -11.8,9.6M410.5,450.6q2.9,-4.4 0.4,-9.0M427.3,469.3q-3.0,-7.3 -10.5,-10.0M430.7,427.1q4.2,0.7 8.3,1.9M438.5,466.1q-7.4,3.0 -14.8,0.0M435.0,430.5q4.5,5.5 11.1,8.3" fill="none" stroke="#e6d4c6" stroke-width="1.3" stroke-linecap="round" opacity="0.5"/>
<path d="M431.0,460.7q3.0,-5.6 3.1,-11.9M443.6,418.7q4.3,1.2 7.7,4.2M435.1,440.1q5.0,-2.3 10.3,-1.3M427.7,435.3q8.1,-4.7 9.3,-13.9M417.5,465.7q-9.1,-3.4 -12.7,-12.3M442.4,465.2q-5.2,-8.0 -14.7,-8.6M445.5,431.5q1.0,4.3 4.6,6.9M456.5,455.3q-5.0,6.8 -11.0,12.7M419.8,443.2q0.9,-5.3 3.6,-10.1M440.4,456.8q-6.5,-4.3 -10.3,-11.1M415.6,437.1q4.9,-5.1 8.1,-11.5M450.6,464.6q-8.2,-4.6 -16.3,0.1M425.2,444.6q-1.2,-3.1 -0.8,-6.4M416.3,440.3q-1.6,-6.7 3.1,-11.7M440.5,462.8q-8.8,3.7 -16.7,-1.7M447.1,481.2q-8.6,0.7 -15.7,-4.2M420.8,473.1q-2.6,-7.8 -0.1,-15.7M411.3,461.4q-6.0,-8.6 -1.0,-17.8M447.0,463.6q-7.3,3.5 -14.0,8.0M439.8,432.3q2.9,-2.5 6.7,-2.7M414.3,464.2q-3.7,-5.0 -2.9,-11.2M441.8,451.2q-3.5,-0.9 -6.5,-2.9M419.2,453.9q2.2,-7.0 -3.6,-11.7M422.1,453.4q1.8,-5.8 5.6,-10.5M449.4,477.2q-4.8,-1.7 -9.9,-1.8M436.1,471.3q-3.5,-2.3 -7.0,-0.1M454.4,457.3q-2.2,4.6 -6.3,7.7M428.1,473.4q-5.1,-4.1 -10.9,-1.3M424.7,466.2q-2.7,-6.5 -4.4,-13.3M445.8,472.7q-6.6,-4.1 -12.6,-9.0M420.9,471.6q-1.2,-5.0 -6.3,-6.0M421.8,430.8q4.1,-4.4 8.5,-8.4M447.4,458.4q-4.3,1.8 -7.5,5.2M430.0,445.6q-1.0,-3.9 -2.1,-7.8M418.5,449.8q-0.4,-7.5 5.4,-12.2M424.2,436.0q6.2,-1.3 11.7,-4.5M410.4,444.8q3.5,-7.2 5.6,-14.9M422.2,474.2q1.4,-6.7 -4.2,-10.6M418.6,427.4q3.6,0.9 6.1,-2.0M428.7,418.8q4.4,2.7 9.2,0.9M435.4,435.5q8.2,1.5 16.1,4.4M421.8,426.7q6.9,-0.7 10.4,-6.7M445.7,436.6q5.2,2.6 5.3,8.5M430.5,446.8q-0.7,-4.1 2.1,-7.1M437.7,472.7q1.9,-9.8 -6.6,-15.1M438.7,431.1q5.3,1.2 8.9,-2.9M426.0,423.8q8.5,-1.4 16.6,-4.1M450.4,427.8q1.6,3.7 4.8,6.0M433.5,430.6q8.0,-4.4 17.1,-3.6M446.4,423.8q3.2,3.4 7.7,4.7M445.6,469.1q-5.0,-1.3 -10.1,-2.5M466.1,452.0q-7.7,-2.0 -15.0,1.2M424.9,476.5q-4.1,-6.4 -10.5,-10.4M416.9,449.7q3.5,-2.9 2.8,-7.3M416.9,455.4q-1.9,-7.2 -0.8,-14.6M462.3,460.2q-3.0,3.7 -4.4,8.2M427.2,466.5q-6.8,0.7 -9.9,-5.4M444.7,476.0q-8.0,-0.4 -16.0,0.3M416.6,434.3q5.3,0.1 8.6,-4.1M417.8,425.4q7.8,-1.4 15.7,-1.3M460.8,436.3q0.4,5.5 0.9,10.9M447.4,462.7q-8.2,-1.0 -15.8,-4.4M447.7,457.7q-5.6,1.8 -11.0,4.1M419.5,456.2q-7.4,-6.2 -4.5,-15.4M452.0,480.3q-5.2,-3.7 -10.9,-6.9M435.4,434.5q4.6,2.1 9.6,1.2M425.0,448.4q-4.2,-5.5 -1.3,-11.7M426.2,429.4q2.6,-3.0 4.8,-6.2M461.5,463.6q-2.9,2.0 -6.4,1.7M440.3,456.1q-3.1,1.7 -6.2,3.4" fill="none" stroke="#3a625f" stroke-width="0.7" stroke-linecap="round" opacity="0.42"/>
<rect x="403.0" y="414.6" width="68.8" height="68.8" filter="url(#nz)" opacity="0.14"/>
<circle cx="437.4" cy="449" r="29.8" fill="none" stroke="#ddd09a" stroke-width="5" opacity="0.35"/>
</g>
<path d="M427.9,478.3A30.8,30.8 0 0 1 412.6,467.2 M408.8,460.5A30.8,30.8 0 0 1 409.9,435.1 M417.2,425.7A30.8,30.8 0 0 1 427.3,419.9 M433.0,418.5A30.8,30.8 0 0 1 442.3,418.6 M449.2,420.5A30.8,30.8 0 0 1 458.8,426.9 M465.5,436.3A30.8,30.8 0 0 1 465.5,461.6 M456.0,473.5A30.8,30.8 0 0 1 443.6,479.2 M440.1,479.7A30.8,30.8 0 0 1 416.6,471.7 M462.6,437.3A27.8,27.8 0 0 1 464.9,452.9 M463.4,459.0A27.8,27.8 0 0 1 458.3,467.3 M447.6,474.9A27.8,27.8 0 0 1 429.6,475.7 M422.6,472.5A27.8,27.8 0 0 1 411.8,459.9 M409.6,448.9A27.8,27.8 0 0 1 419.8,427.5" fill="none" stroke="#2f4fd8" stroke-width="1.3" stroke-dasharray="1.2 0.7 2.8 0.7 2.3 0.8 1.8 0.9 1.3 0.8 2.7 0.5 1.6 1.1 3.0 0.4 2.2 0.9 2.7 0.8 1.1 0.6 2.4 1.0 1.3 0.9 2.2 0.9 0.8 0.8"/>
<circle cx="508" cy="448.7" r="35.7" fill="#020806" opacity="0.7" filter="url(#shd)"/>
<circle cx="508" cy="447.9" r="34.4" fill="#0a120f"/>
<circle cx="508" cy="447.9" r="33.5" fill="#f1e9ec"/>
<circle cx="508" cy="447.9" r="31.5" fill="#b5aa9c"/>
<g clip-path="url(#c13)">
<rect x="457.8" y="397.6" width="100.5" height="100.5" filter="url(#sw)" opacity="0.2" transform="rotate(138 508 447.9)"/>
<rect x="457.8" y="397.6" width="100.5" height="100.5" filter="url(#spl)" opacity="0.45" transform="rotate(98 508 447.9)"/>
<rect x="457.8" y="397.6" width="100.5" height="100.5" filter="url(#spk)" opacity="0.6" transform="rotate(58 508 447.9)"/>
<path d="M500.2,442.7q2.9,-3.8 5.4,-8.0M535.2,465.8q-7.6,4.1 -14.8,-0.7M537.0,448.4q-0.2,4.1 -1.6,8.0M493.2,460.5q-3.1,-2.0 -6.4,-3.9M522.1,440.6q-1.0,5.1 3.4,8.1M490.9,438.6q6.4,-5.0 13.9,-7.9M508.8,474.9q-4.5,-4.6 -10.8,-3.6M498.7,459.7q-5.2,-6.0 -6.1,-13.9M503.8,450.7q-8.8,-1.5 -14.5,-8.3M489.2,462.2q-0.6,-3.2 -0.7,-6.4M502.1,473.7q-3.8,-1.1 -6.5,1.7M512.2,457.2q-7.3,4.8 -14.6,-0.2M523.7,458.3q-2.0,3.7 -6.0,5.0M518.5,450.0q-3.4,2.4 -6.7,4.9M508.3,437.6q4.2,2.6 8.8,1.0M504.3,442.6q4.1,1.0 6.8,-2.2M490.7,439.9q2.6,-2.3 3.7,-5.7M499.7,427.7q4.2,-2.0 8.4,-4.0M499.1,456.7q-4.1,-3.0 -5.7,-7.7M535.7,457.6q-7.4,2.5 -14.9,4.8M521.4,450.5q-1.7,7.2 -5.7,13.5M520.0,432.3q0.2,5.6 5.5,7.5M538.6,438.8q-4.0,6.9 -5.6,14.7M522.0,440.8q-3.6,6.6 -1.3,13.7M530.7,455.4q-3.9,2.5 -6.7,6.2M499.5,457.0q-7.5,-3.7 -8.2,-12.1M528.0,455.5q3.5,7.7 -2.0,14.1M520.8,439.4q0.3,5.4 -0.6,10.7M497.3,433.6q4.9,-2.3 9.3,-5.5M521.2,460.5q-9.7,3.6 -10.4,14.0M530.9,443.5q2.0,4.2 6.2,6.3M530.2,430.6q-3.3,8.4 1.8,15.9M506.5,434.2q5.6,1.0 10.2,-2.3M517.6,421.2q7.5,1.8 11.1,8.6M496.5,446.6q-0.7,-3.9 1.9,-7.0M519.8,475.0q-8.3,-0.6 -15.4,-4.9M502.1,474.5q-3.0,-0.7 -5.9,-1.8M531.4,443.1q-4.1,7.2 -10.5,12.5M511.5,449.1q-3.6,0.3 -5.7,-2.6M482.4,440.1q2.4,-5.9 8.0,-9.0M516.7,440.2q9.3,1.2 13.6,9.6M541.8,449.0q-7.9,-0.5 -13.7,5.0M482.8,446.3q-0.2,-6.6 3.6,-12.0M521.1,461.9q-6.8,2.7 -12.8,6.8M491.1,436.9q-0.4,-7.9 -2.2,-15.6M519.0,437.4q5.9,0.8 8.3,6.3M496.5,430.4q6.2,5.3 13.8,2.2M487.1,461.1q-2.0,-5.8 -7.3,-8.9M522.0,454.2q-2.3,4.0 -2.4,8.6M528.7,464.3q-1.3,3.6 -2.6,7.2M526.6,435.2q-3.7,6.9 -4.8,14.8M520.3,441.7q2.2,4.1 -0.4,8.1M526.0,441.6q2.7,8.4 3.4,17.1M506.7,419.9q6.9,-1.1 12.8,2.6M495.7,453.3q-5.1,-3.6 -7.9,-9.1M533.0,443.7q-1.2,4.2 -4.1,7.4M518.5,451.4q-7.4,-3.9 -15.7,-3.4M518.1,418.9q4.5,4.8 9.9,8.5M508.3,452.1q-2.6,-2.2 -5.4,-4.1M487.6,453.7q-0.4,-6.2 4.6,-9.8" fill="none" stroke="#e6d4c6" stroke-width="1.3" stroke-linecap="round" opacity="0.5"/>
<path d="M492.4,443.1q6.8,-5.8 14.9,-2.1M494.1,428.8q2.6,-4.7 -0.3,-9.3M525.3,427.9q4.9,2.4 7.8,7.1M484.1,432.3q4.8,-1.3 9.5,-3.1M475.0,441.9q3.4,-10.2 14.0,-11.1M488.9,448.8q5.0,-7.2 0.4,-14.7M487.9,457.7q1.1,-8.5 -6.0,-13.2M511.5,457.7q-9.0,-3.6 -9.9,-13.2M532.3,448.8q2.1,4.0 2.8,8.4M501.7,440.1q3.2,-5.4 4.7,-11.4M485.4,442.0q7.2,-5.7 16.5,-5.6M495.5,465.6q-1.9,-5.2 -6.9,-7.4M495.0,446.2q0.7,-3.2 3.0,-5.4M523.1,440.1q4.1,1.6 7.9,-0.6M488.1,446.9q0.0,-5.5 4.3,-9.0M509.9,462.8q-4.9,-5.3 -10.9,-9.5M504.0,441.2q8.7,0.2 14.6,-6.2M515.5,436.9q7.5,3.9 10.5,11.7M504.5,453.6q6.6,-4.8 8.3,-12.7M510.8,426.5q9.1,-1.2 17.7,2.0M526.0,430.8q3.6,7.0 11.4,8.6M506.8,473.7q-2.1,-4.0 -4.6,-7.7M508.4,436.5q5.8,4.6 13.0,6.1M503.1,441.3q5.8,-5.3 13.5,-7.0M511.6,462.7q-8.1,-3.2 -10.8,-11.5M509.5,460.0q-9.1,-0.9 -14.2,-8.6M504.7,439.6q3.6,-0.9 7.0,0.6M521.6,426.4q3.6,4.1 6.6,8.7M507.3,459.2q0.6,-7.8 -4.3,-13.9M497.7,426.3q3.8,0.5 7.2,2.2M509.1,466.0q-5.1,-1.1 -8.6,-4.8M487.6,432.2q1.8,-5.7 5.3,-10.5M527.1,433.5q8.5,1.5 14.4,7.8M525.0,453.7q-6.3,1.3 -10.1,6.5M495.7,457.7q4.0,-4.3 3.3,-10.1M490.4,470.4q-1.7,-3.4 -4.6,-5.9M525.9,432.2q5.8,2.6 9.2,7.9M492.1,459.6q1.0,-9.7 -6.9,-15.5M478.4,460.2q3.1,-8.1 2.9,-16.8M488.5,470.1q-9.4,-5.3 -8.1,-15.9M515.5,424.8q4.5,-0.1 8.0,-3.0M490.0,462.7q2.6,-3.7 1.8,-8.2M533.6,458.2q-3.9,3.6 -8.5,6.2M518.2,428.7q6.2,6.3 14.2,10.0M528.2,457.4q-6.2,2.1 -12.6,3.3M483.9,468.0q-1.6,-4.9 -2.0,-10.0M514.1,441.6q5.9,-0.1 10.5,3.5M492.9,454.1q2.2,-6.5 -2.9,-11.0M518.9,470.3q-4.6,-3.0 -9.9,-2.1M517.9,477.1q-7.7,-0.8 -15.1,-2.9M484.2,449.9q4.4,-5.8 5.3,-13.0M518.6,433.1q6.9,4.5 10.5,11.9M500.3,448.6q0.4,-3.2 0.9,-6.5M503.5,447.9q2.4,-6.6 8.1,-10.8M517.7,469.6q-7.7,-1.6 -15.2,-4.3M497.5,475.2q-2.9,-7.4 -7.6,-13.7M495.6,469.1q-4.7,-7.8 -12.5,-12.6M492.0,434.3q1.5,-3.4 4.4,-5.7M509.5,430.9q4.3,7.7 12.7,10.5M503.7,474.0q-3.0,-3.4 -7.4,-4.8M501.1,436.9q6.3,-3.0 8.4,-9.8M486.8,477.1q-6.1,-8.9 -0.0,-17.8M533.1,445.7q3.9,6.8 4.1,14.7M504.8,436.4q6.7,0.5 12.1,-3.4M529.5,446.9q2.6,6.6 -2.8,11.3M496.5,441.4q5.2,-5.7 7.9,-13.0M500.4,431.2q5.9,-2.1 11.0,-5.7M520.6,469.8q-4.0,2.9 -8.9,3.8M504.9,458.7q-1.1,-4.1 -4.5,-6.7M505.9,441.1q0.3,-4.5 4.3,-6.5" fill="none" stroke="#3a625f" stroke-width="0.7" stroke-linecap="round" opacity="0.42"/>
<rect x="474.5" y="414.4" width="67.0" height="67.0" filter="url(#nz)" opacity="0.14"/>
<circle cx="508" cy="447.9" r="28.9" fill="none" stroke="#ddd09a" stroke-width="5" opacity="0.35"/>
</g>
<path d="M478.2,445.1A29.9,29.9 0 0 1 483.0,431.4 M492.8,422.2A29.9,29.9 0 0 1 520.3,420.6 M525.8,423.9A29.9,29.9 0 0 1 537.7,444.6 M536.8,455.8A29.9,29.9 0 0 1 525.1,472.4 M519.8,475.4A29.9,29.9 0 0 1 492.2,473.3 M482.2,463.0A29.9,29.9 0 0 1 478.8,454.5 M478.1,447.6A29.9,29.9 0 0 1 482.3,432.7 M483.6,459.3A26.9,26.9 0 0 1 484.3,435.2 M485.8,432.7A26.9,26.9 0 0 1 505.7,421.1 M511.7,421.3A26.9,26.9 0 0 1 519.6,423.6 M529.2,431.3A26.9,26.9 0 0 1 534.5,443.3" fill="none" stroke="#2f4fd8" stroke-width="1.3" stroke-dasharray="1.1 0.7 1.1 0.5 1.4 0.9 1.8 0.6 2.0 1.0 2.4 0.7 2.8 1.0 2.0 0.8 1.5 0.5 2.7 0.9 1.0 1.1 2.8 0.4 2.3 0.6 2.0 1.1 1.6 0.8"/>
<rect x="182.1" y="337.3" width="3.6" height="146.5" fill="#0b0f0d"/>
<rect x="183.2" y="337.3" width="1.4" height="146.5" fill="#a8a4ac"/>
<rect x="256.9" y="337.3" width="3.6" height="146.5" fill="#0b0f0d"/>
<rect x="258.0" y="337.3" width="1.4" height="146.5" fill="#a8a4ac"/>
<rect x="330.8" y="337.3" width="3.6" height="146.5" fill="#0b0f0d"/>
<rect x="331.9" y="337.3" width="1.4" height="146.5" fill="#a8a4ac"/>
<rect x="401.1" y="337.3" width="3.6" height="146.5" fill="#0b0f0d"/>
<rect x="402.2" y="337.3" width="1.4" height="146.5" fill="#a8a4ac"/>
<rect x="471.4" y="337.3" width="3.6" height="146.5" fill="#0b0f0d"/>
<rect x="472.5" y="337.3" width="1.4" height="146.5" fill="#a8a4ac"/>
</g>
</svg></body></html>
